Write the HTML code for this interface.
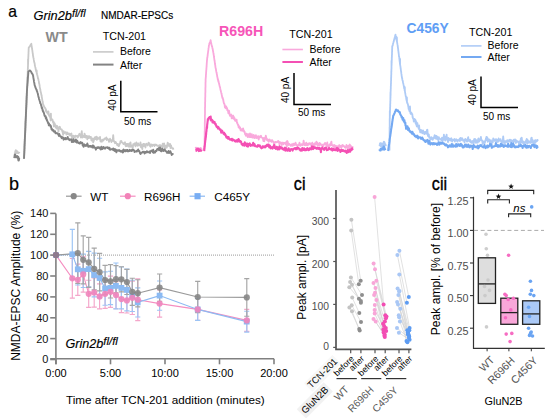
<!DOCTYPE html>
<html><head><meta charset="utf-8"><style>
html,body{margin:0;padding:0;background:#fff;width:550px;height:418px;overflow:hidden}
svg{display:block}
text{font-family:"Liberation Sans",sans-serif}
</style></head><body>
<svg width="550" height="418" viewBox="0 0 550 418">
<rect width="550" height="418" fill="#fff"/>
<text transform="translate(8.3 16.9) scale(0.9 1)" font-size="17.4" stroke="#000" stroke-width="0.25" font-family="Liberation Sans, sans-serif">a</text>
<text x="33.5" y="20" font-size="12.8" font-style="italic" stroke="#000" stroke-width="0.15" font-family="Liberation Sans, sans-serif">Grin2b<tspan font-size="10.8" dy="-3.3">fl/fl</tspan></text>
<text x="101" y="19.2" font-size="10" stroke="#000" stroke-width="0.15" font-family="Liberation Sans, sans-serif">NMDAR-EPSCs</text>
<text x="45.5" y="41.6" font-size="14.2" font-weight="bold" fill="#8a8a8a" font-family="Liberation Sans, sans-serif">WT</text>
<text x="102.7" y="40" font-size="10.7" font-family="Liberation Sans, sans-serif">TCN-201</text><line x1="93" y1="51.9" x2="113.5" y2="51.9" stroke="#c9c9c9" stroke-width="1.6"/><text x="120" y="55.4" font-size="10.5" font-family="Liberation Sans, sans-serif">Before</text><line x1="93" y1="64.6" x2="113.5" y2="64.6" stroke="#838383" stroke-width="2"/><text x="120" y="68.6" font-size="10.5" font-family="Liberation Sans, sans-serif">After</text>
<path d="M120.8 80.8 L120.8 111.8 L157.5 111.8" fill="none" stroke="#000" stroke-width="1.5"/><text transform="translate(116.3 97.6) rotate(-90)" font-size="10" text-anchor="middle" font-family="Liberation Sans, sans-serif">40 pA</text><text x="124" y="125" font-size="10" font-family="Liberation Sans, sans-serif">50 ms</text>
<path d="M14.5 152.1 L15.0 152.6 L15.4 152.2 L15.9 150.6 L16.3 152.7 L16.8 152.4 L17.2 151.6 L17.7 152.8 L18.1 152.8 L18.6 152.9 L19.0 152.9 L19.5 153.4" fill="none" stroke="#c9c9c9" stroke-width="2.4" stroke-linejoin="round"/>
<path d="M24.0 158.9 L24.0 158.3 L24.0 157.9 L24.1 156.9 L24.1 157.6 L24.1 157.1 L24.1 156.2 L24.1 156.0 L24.2 155.4 L24.2 154.6 L24.2 154.6 L24.2 153.7 L24.2 153.1 L24.3 152.7 L24.3 152.6 L24.3 152.1 L24.3 152.0 L24.3 151.3 L24.4 151.0 L24.4 150.4 L24.4 150.4 L24.4 149.7 L24.4 149.1 L24.5 148.7 L24.5 147.9 L24.5 147.9 L24.5 147.9 L24.5 146.7 L24.5 146.1 L24.6 143.0 L24.6 145.8 L24.6 145.1 L24.6 144.8 L24.6 144.2 L24.7 143.4 L24.7 143.1 L24.7 142.5 L24.7 142.3 L24.7 141.2 L24.8 141.1 L24.8 140.8 L24.8 140.7 L24.8 139.7 L24.8 139.1 L24.9 138.7 L24.9 138.8 L24.9 137.9 L24.9 137.9 L24.9 136.7 L25.0 137.0 L25.0 136.7 L25.0 135.8 L25.0 135.6 L25.0 135.5 L25.1 134.8 L25.1 134.7 L25.1 134.6 L25.1 133.5 L25.1 132.9 L25.2 132.4 L25.2 132.3 L25.2 131.5 L25.2 131.0 L25.2 130.6 L25.3 130.4 L25.3 129.5 L25.3 129.0 L25.3 128.2 L25.3 128.6 L25.4 127.9 L25.4 127.7 L25.4 127.0 L25.4 126.3 L25.4 126.1 L25.5 121.1 L25.5 125.1 L25.5 124.7 L25.5 125.0 L25.5 124.0 L25.5 123.5 L25.6 122.9 L25.6 122.2 L25.6 122.2 L25.6 121.5 L25.6 120.9 L25.7 120.8 L25.7 120.2 L25.7 119.8 L25.7 119.6 L25.7 118.6 L25.8 118.7 L25.8 117.6 L25.8 117.3 L25.8 116.5 L25.8 116.5 L25.9 116.0 L25.9 115.4 L25.9 114.9 L25.9 114.4 L25.9 114.0 L26.0 113.3 L26.0 113.0 L26.0 112.8 L26.0 112.5 L26.0 111.9 L26.1 112.1 L26.1 111.2 L26.1 110.6 L26.1 110.8 L26.1 109.6 L26.2 109.7 L26.2 108.8 L26.2 108.6 L26.2 107.5 L26.2 107.7 L26.3 107.0 L26.3 106.4 L26.3 106.7 L26.3 106.0 L26.3 105.4 L26.4 104.7 L26.4 104.5 L26.4 104.0 L26.4 103.8 L26.4 103.3 L26.5 102.5 L26.5 102.1 L26.5 101.6 L26.5 100.9 L26.5 100.6 L26.5 100.3 L26.6 99.9 L26.6 99.7 L26.6 96.3 L26.6 98.8 L26.6 98.2 L26.7 98.5 L26.7 97.5 L26.7 97.2 L26.7 96.3 L26.7 95.8 L26.8 95.6 L26.8 94.9 L26.8 94.5 L26.8 93.6 L26.8 93.8 L26.9 93.0 L26.9 93.1 L26.9 92.2 L26.9 92.2 L26.9 91.2 L27.0 91.2 L27.0 90.2 L27.0 89.9 L27.0 89.5 L27.0 89.0 L27.1 88.6 L27.1 88.3 L27.1 87.8 L27.1 87.3 L27.1 86.6 L27.1 86.2 L27.2 85.9 L27.2 85.0 L27.2 85.3 L27.2 84.5 L27.2 84.1 L27.3 83.9 L27.3 83.5 L27.3 77.3 L27.3 82.1 L27.3 82.0 L27.3 81.6 L27.4 80.7 L27.4 80.7 L27.4 80.1 L27.4 79.1 L27.4 79.0 L27.5 78.2 L27.5 78.4 L27.5 78.1 L27.5 77.1 L27.5 76.8 L27.5 76.7 L27.6 76.3 L27.6 76.4 L27.6 75.7 L27.6 74.9 L27.6 74.7 L27.7 73.5 L27.7 73.5 L27.7 73.0 L27.7 72.2 L27.7 71.6 L27.7 71.4 L27.8 71.4 L27.8 70.5 L27.8 69.8 L27.8 70.1 L27.8 68.7 L27.9 68.9 L27.9 68.2 L27.9 68.0 L27.9 67.1 L27.9 67.0 L28.0 66.3 L28.0 65.5 L28.0 65.0 L28.0 65.0 L28.0 65.1 L28.0 59.3 L28.1 64.2 L28.1 63.6 L28.1 63.5 L28.1 62.9 L28.1 62.5 L28.2 61.7 L28.2 61.7 L28.2 61.3 L28.2 60.1 L28.2 60.5 L28.2 59.6 L28.3 58.6 L28.3 57.9 L28.3 58.2 L28.3 57.6 L28.3 56.9 L28.4 56.1 L28.4 56.5 L28.4 55.6 L28.4 55.0 L28.4 55.4 L28.4 54.7 L28.5 54.0 L28.5 53.2 L28.5 53.0 L28.5 51.8 L28.5 52.2 L28.6 51.6 L28.6 50.8 L28.6 50.3 L28.6 50.4 L28.6 49.8 L28.6 49.5 L28.7 49.1 L28.7 48.0 L28.7 47.7 L29.0 47.1 L29.4 47.0 L29.7 46.8 L30.0 45.9 L30.3 45.7 L30.6 44.7 L31.0 44.4 L31.3 43.8 L31.4 44.3 L31.4 45.4 L31.5 45.6 L31.6 45.6 L31.7 46.1 L31.7 46.8 L31.8 46.9 L31.9 47.6 L31.9 47.7 L32.0 48.5 L32.1 48.9 L32.1 49.4 L32.2 49.6 L32.3 50.0 L32.4 50.8 L32.4 51.2 L32.5 51.6 L32.6 52.1 L32.6 53.0 L32.7 53.3 L32.8 53.5 L32.9 54.2 L32.9 54.4 L33.0 55.7 L33.1 55.9 L33.1 55.9 L33.2 56.8 L33.3 57.3 L33.3 56.8 L33.4 57.7 L33.5 58.0 L33.6 58.1 L33.6 58.6 L33.7 59.1 L33.8 59.9 L33.9 60.4 L34.0 61.4 L34.1 61.2 L34.2 62.1 L34.3 62.3 L34.4 62.8 L34.5 63.0 L34.6 63.2 L34.7 64.0 L34.8 64.7 L34.8 65.5 L34.9 65.6 L35.0 66.0 L35.1 66.0 L35.2 66.9 L35.3 67.3 L35.4 67.4 L35.5 68.0 L35.6 68.2 L35.7 69.4 L35.8 69.6 L35.9 70.2 L36.0 70.8 L36.1 71.2 L36.3 71.4 L36.4 71.7 L36.5 72.1 L36.6 72.4 L36.7 70.5 L36.8 74.1 L37.0 73.5 L37.1 74.4 L37.2 74.8 L37.3 74.9 L37.4 75.7 L37.5 75.9 L37.7 77.0 L37.8 77.1 L37.9 77.8 L38.0 78.5 L38.1 78.6 L38.2 78.5 L38.4 79.3 L38.5 80.2 L38.6 80.5 L38.7 80.9 L38.8 81.1 L38.9 82.0 L39.0 82.8 L39.1 83.0 L39.1 83.8 L39.2 83.7 L39.3 83.9 L39.4 84.2 L39.5 85.4 L39.6 85.5 L39.7 86.4 L39.8 86.8 L39.8 87.5 L39.9 88.1 L40.0 88.1 L40.1 88.6 L40.2 89.4 L40.3 89.2 L40.4 90.3 L40.5 90.7 L40.5 91.1 L40.6 91.3 L40.7 92.0 L40.8 92.0 L40.9 92.7 L41.0 92.9 L41.1 93.4 L41.2 93.7 L41.2 94.2 L41.3 94.8 L41.4 94.6 L41.5 95.6 L41.6 95.4 L41.7 95.8 L41.7 96.8 L41.8 97.3 L41.9 97.9 L42.0 98.0 L42.1 98.8 L42.2 99.4 L42.3 100.2 L42.3 100.3 L42.4 100.9 L42.5 101.0 L42.6 101.6 L42.7 101.9 L42.8 102.5 L42.8 102.6 L42.9 103.0 L43.0 103.8 L43.1 104.6 L43.3 104.7 L43.6 105.2 L43.8 105.6 L44.0 106.5 L44.2 106.9 L44.5 107.7 L44.7 107.8 L44.9 107.5 L45.1 108.0 L45.4 108.4 L45.6 108.7 L45.8 110.6 L46.0 111.0 L46.2 109.9 L46.5 112.2 L46.7 111.7 L46.9 111.4 L47.1 112.8 L47.4 112.7 L47.6 112.7 L47.9 112.5 L48.1 114.1 L48.4 111.5 L48.6 112.8 L48.9 115.1 L49.1 115.7 L49.4 115.3 L49.6 116.6 L49.9 116.9 L50.1 117.0 L50.4 118.3 L50.6 120.5 L50.9 113.6 L51.1 119.4 L51.4 119.7 L51.6 119.1 L51.9 119.8 L52.1 119.3 L52.5 119.7 L52.8 121.7 L53.2 122.8 L53.5 121.6 L53.9 126.6 L54.3 122.8 L54.6 123.7 L55.0 124.5 L55.3 125.0 L55.7 127.4 L56.1 125.6 L56.4 128.7 L56.8 128.6 L57.1 125.9 L57.5 128.7 L58.0 127.0 L58.4 131.8 L58.9 128.0 L59.4 127.6 L59.8 126.7 L60.3 128.5 L60.8 129.3 L61.2 129.4 L61.7 129.3 L62.2 130.9 L62.7 132.4 L63.1 134.8 L63.6 131.1 L64.1 133.4 L64.5 132.6 L65.0 132.5 L65.5 132.1 L65.9 132.3 L66.4 134.5 L66.8 132.9 L67.3 132.5 L67.7 134.1 L68.2 133.7 L68.6 133.5 L69.1 134.6 L69.5 133.6 L70.0 135.5 L70.5 135.3 L70.9 134.1 L71.4 133.4 L71.8 137.1 L72.3 135.8 L72.7 139.4 L73.2 135.7 L73.6 137.5 L74.1 136.1 L74.5 136.1 L75.0 137.3 L75.5 135.6 L75.9 136.4 L76.4 136.2 L76.8 135.9 L77.3 136.1 L77.7 137.5 L78.2 136.8 L78.6 135.2 L79.1 134.5 L79.5 133.7 L80.0 135.1 L80.5 136.1 L80.9 137.5 L81.4 133.6 L81.8 131.2 L82.3 137.6 L82.7 136.0 L83.2 135.9 L83.6 136.7 L84.1 137.1 L84.5 133.6 L85.0 135.1 L85.5 137.5 L85.9 137.2 L86.4 136.1 L86.8 135.9 L87.3 139.3 L87.7 136.3 L88.2 137.8 L88.6 138.0 L89.1 136.0 L89.5 137.9 L90.0 137.2 L90.5 136.8 L90.9 136.9 L91.4 140.5 L91.8 138.7 L92.3 139.1 L92.7 138.5 L93.2 142.3 L93.6 141.2 L94.1 139.5 L94.5 138.0 L95.0 137.1 L95.5 139.1 L95.9 139.2 L96.4 136.7 L96.8 139.8 L97.3 139.5 L97.7 137.5 L98.2 138.3 L98.6 138.2 L99.1 138.9 L99.5 138.8 L100.0 136.9 L100.5 141.5 L100.9 140.1 L101.4 141.2 L101.8 141.7 L102.3 139.6 L102.7 140.4 L103.2 140.6 L103.6 140.1 L104.1 139.2 L104.5 138.5 L105.0 138.9 L105.5 138.3 L105.9 139.0 L106.4 137.3 L106.8 140.0 L107.3 138.8 L107.7 138.9 L108.2 139.8 L108.6 140.0 L109.1 141.9 L109.5 140.2 L110.0 138.7 L110.5 140.3 L110.9 139.9 L111.4 142.1 L111.8 140.4 L112.3 140.4 L112.7 140.8 L113.2 135.1 L113.6 139.7 L114.1 141.4 L114.5 141.9 L115.0 143.2 L115.5 141.9 L115.9 142.2 L116.4 143.5 L116.8 143.6 L117.3 145.1 L117.7 144.0 L118.2 144.7 L118.6 146.2 L119.1 145.8 L119.5 143.6 L120.0 143.7 L120.5 141.1 L120.9 142.3 L121.4 141.0 L121.8 142.2 L122.3 142.5 L122.7 142.7 L123.2 143.6 L123.6 144.1 L124.1 143.9 L124.5 143.1 L125.0 142.3 L125.5 145.5 L125.9 146.2 L126.4 144.0 L126.8 146.1 L127.3 144.1 L127.7 143.9 L128.2 144.7 L128.6 146.7 L129.1 143.6 L129.5 143.6 L130.0 146.9 L130.5 142.3 L130.9 146.0 L131.4 146.6 L131.8 145.7 L132.3 146.3 L132.7 149.1 L133.2 144.1 L133.6 144.5 L134.1 144.7 L134.5 143.4 L135.0 143.3 L135.5 146.3 L135.9 144.9 L136.4 142.4 L136.8 143.9 L137.3 145.5 L137.7 145.8 L138.2 143.5 L138.6 145.3 L139.1 145.4 L139.5 145.0 L140.0 145.4 L140.5 142.4 L140.9 147.3 L141.4 144.7 L141.8 146.8 L142.3 149.1 L142.7 146.0 L143.2 143.9 L143.6 146.2 L144.1 144.0 L144.5 144.2 L145.0 144.3 L145.5 147.5 L145.9 144.5 L146.4 143.7 L146.8 144.5 L147.3 144.6 L147.7 145.5 L148.2 144.0 L148.6 142.6 L149.1 144.6 L149.5 143.4 L150.0 146.1 L150.5 146.7 L150.9 144.9 L151.4 144.4 L151.8 145.3 L152.3 146.0 L152.7 144.9 L153.2 144.7 L153.6 144.8 L154.1 145.4 L154.5 146.1 L155.0 144.4 L155.5 145.0 L155.9 145.0 L156.4 144.7 L156.8 145.5 L157.3 145.8 L157.7 145.9 L158.2 145.5 L158.6 145.6 L159.1 149.2 L159.5 147.7 L160.0 145.0 L160.5 145.6 L160.9 148.8 L161.4 148.1 L161.8 145.4 L162.3 147.2 L162.7 143.7 L163.2 146.0 L163.6 146.7 L164.1 143.4 L164.5 145.7 L165.0 148.0 L165.5 148.2 L165.9 145.7 L166.4 146.1 L166.8 147.7 L167.3 144.9 L167.7 142.6 L168.2 144.2 L168.6 143.9 L169.1 146.2 L169.5 145.4 L170.0 143.9 L170.5 148.1 L171.0 145.3 L171.5 147.5 L172.0 147.9 L172.5 148.6 L173.0 148.2 L173.5 149.6" fill="none" stroke="#c9c9c9" stroke-width="1.8" stroke-linejoin="round"/>
<path d="M14.5 158.1 L15.0 154.8 L15.4 157.0 L15.9 156.5 L16.3 156.6 L16.8 157.0 L17.2 156.2 L17.7 157.7 L18.1 157.1 L18.6 160.3 L19.0 157.9 L19.5 157.5" fill="none" stroke="#838383" stroke-width="2.4" stroke-linejoin="round"/>
<path d="M24.0 158.8 L24.0 158.4 L24.0 158.2 L24.1 157.6 L24.1 156.8 L24.1 156.6 L24.1 156.2 L24.1 155.9 L24.2 155.2 L24.2 155.1 L24.2 154.7 L24.2 154.5 L24.2 153.9 L24.3 153.3 L24.3 152.6 L24.3 152.6 L24.3 151.5 L24.3 151.5 L24.4 150.8 L24.4 150.3 L24.4 149.9 L24.4 149.4 L24.4 149.1 L24.5 148.5 L24.5 148.4 L24.5 147.3 L24.5 147.2 L24.5 146.6 L24.5 146.4 L24.6 145.6 L24.6 145.4 L24.6 145.1 L24.6 144.5 L24.6 144.3 L24.7 143.8 L24.7 143.5 L24.7 143.0 L24.7 142.2 L24.7 141.7 L24.8 141.3 L24.8 141.0 L24.8 140.5 L24.8 139.9 L24.8 139.4 L24.9 139.0 L24.9 138.5 L24.9 138.2 L24.9 137.7 L24.9 137.6 L25.0 136.7 L25.0 136.3 L25.0 135.9 L25.0 135.3 L25.0 134.9 L25.1 134.5 L25.1 134.1 L25.1 133.4 L25.1 133.4 L25.1 132.8 L25.2 132.4 L25.2 132.0 L25.2 131.5 L25.2 131.2 L25.2 130.7 L25.3 130.2 L25.3 129.8 L25.3 129.1 L25.3 129.0 L25.3 128.4 L25.4 127.8 L25.4 127.8 L25.4 127.0 L25.4 126.4 L25.4 126.5 L25.5 125.7 L25.5 125.4 L25.5 124.6 L25.5 124.2 L25.5 123.5 L25.5 123.0 L25.6 122.6 L25.6 122.3 L25.6 122.0 L25.6 121.8 L25.6 120.8 L25.7 120.7 L25.7 120.0 L25.7 119.6 L25.7 119.0 L25.7 118.6 L25.8 118.4 L25.8 117.9 L25.8 117.6 L25.8 117.1 L25.8 117.0 L25.9 116.3 L25.9 115.8 L25.9 115.4 L25.9 114.9 L25.9 114.4 L26.0 113.9 L26.0 113.5 L26.0 113.2 L26.0 112.7 L26.0 112.2 L26.1 111.8 L26.1 111.1 L26.1 110.8 L26.1 109.9 L26.1 109.9 L26.2 109.2 L26.2 108.8 L26.2 108.4 L26.2 107.9 L26.2 107.5 L26.3 107.4 L26.3 106.8 L26.3 106.3 L26.3 106.1 L26.3 105.2 L26.4 105.3 L26.4 104.5 L26.4 104.1 L26.4 103.9 L26.4 103.4 L26.5 102.6 L26.5 102.3 L26.5 102.0 L26.5 101.5 L26.5 100.7 L26.5 100.3 L26.6 100.0 L26.6 99.4 L26.6 99.0 L26.6 98.5 L26.6 97.9 L26.7 97.5 L26.7 96.8 L26.7 96.8 L26.7 96.5 L26.7 95.8 L26.8 95.7 L26.8 95.2 L26.8 94.6 L26.8 94.0 L26.8 93.6 L26.9 93.0 L26.9 92.6 L26.9 92.2 L26.9 91.8 L26.9 91.4 L27.0 90.8 L27.0 90.6 L27.0 89.9 L27.0 89.6 L27.1 89.2 L27.1 88.6 L27.1 88.0 L27.2 87.6 L27.2 87.0 L27.2 86.6 L27.3 86.2 L27.3 85.9 L27.4 85.3 L27.4 85.3 L27.4 84.6 L27.5 83.6 L27.5 83.5 L27.5 83.3 L27.6 82.7 L27.6 82.2 L27.6 81.7 L27.7 81.5 L27.7 81.0 L27.7 80.5 L27.8 80.0 L27.8 79.6 L27.8 79.0 L27.9 78.3 L27.9 78.2 L27.9 77.6 L28.0 77.2 L28.0 76.9 L28.0 76.3 L28.1 75.5 L28.1 75.6 L28.2 75.1 L28.2 74.6 L28.2 74.0 L28.3 73.6 L28.3 73.0 L28.3 72.9 L28.4 72.3 L28.4 71.7 L29.0 71.1 L29.5 70.7 L30.1 70.4 L30.4 70.9 L30.6 71.2 L30.9 71.5 L31.2 71.9 L31.4 72.5 L31.7 73.2 L31.9 73.1 L32.2 74.0 L32.5 74.0 L32.7 74.7 L33.0 75.4 L33.1 75.6 L33.2 76.0 L33.2 76.7 L33.3 77.2 L33.4 77.5 L33.5 78.2 L33.5 78.3 L33.6 79.2 L33.7 79.4 L33.8 79.9 L33.9 80.4 L33.9 80.8 L34.0 81.5 L34.1 82.0 L34.2 82.3 L34.2 82.7 L34.3 83.0 L34.4 83.4 L34.5 84.0 L34.5 84.4 L34.6 84.9 L34.7 85.4 L34.9 85.9 L35.1 86.1 L35.3 86.7 L35.4 87.5 L35.6 87.9 L35.8 88.2 L36.0 88.9 L36.2 89.0 L36.4 89.5 L36.6 89.7 L36.7 90.6 L36.9 90.9 L37.1 91.5 L37.3 91.9 L37.4 92.2 L37.5 92.7 L37.7 93.3 L37.8 93.6 L37.9 94.0 L38.0 94.6 L38.1 95.2 L38.3 95.8 L38.4 96.6 L38.5 96.6 L38.6 97.3 L38.8 97.6 L38.9 98.2 L39.0 98.6 L39.1 99.3 L39.2 99.4 L39.4 99.7 L39.5 100.4 L39.6 100.9 L39.8 101.1 L39.9 101.7 L40.1 102.0 L40.2 103.2 L40.4 103.1 L40.5 103.7 L40.7 103.5 L40.8 104.0 L41.0 104.7 L41.1 105.2 L41.3 106.1 L41.4 106.0 L41.6 107.0 L41.7 107.8 L41.9 107.3 L42.0 108.5 L42.2 108.1 L42.3 109.1 L42.5 109.4 L42.6 110.4 L42.8 110.0 L42.9 110.9 L43.1 111.7 L43.3 111.3 L43.5 112.2 L43.7 112.4 L43.9 113.0 L44.1 113.9 L44.3 114.4 L44.5 115.6 L44.7 115.7 L44.9 116.2 L45.1 116.0 L45.3 116.4 L45.4 117.0 L45.6 116.1 L45.8 118.5 L46.0 117.5 L46.2 117.5 L46.4 118.3 L46.6 119.5 L46.8 120.1 L47.0 119.8 L47.2 121.0 L47.4 121.2 L47.6 121.3 L47.9 122.7 L48.2 123.5 L48.5 122.9 L48.8 125.4 L49.1 123.7 L49.4 125.2 L49.7 124.5 L50.0 125.0 L50.3 125.1 L50.6 126.8 L50.9 125.9 L51.2 127.4 L51.5 129.4 L51.8 128.6 L52.1 129.4 L52.4 130.4 L52.7 129.8 L53.0 130.7 L53.5 130.2 L54.0 131.8 L54.5 131.6 L55.0 131.2 L55.5 133.3 L55.9 132.9 L56.4 133.3 L56.9 133.0 L57.4 133.4 L57.9 133.9 L58.4 134.6 L58.9 135.9 L59.3 134.0 L59.8 135.3 L60.3 136.5 L60.8 136.3 L61.2 136.9 L61.7 138.2 L62.2 137.1 L62.6 137.8 L63.1 137.6 L63.6 139.7 L64.1 139.2 L64.5 138.2 L65.0 138.9 L65.5 137.9 L65.9 139.4 L66.4 138.9 L66.8 138.2 L67.3 138.4 L67.7 136.9 L68.2 139.3 L68.6 138.9 L69.1 139.1 L69.5 140.2 L70.0 139.4 L70.5 139.4 L70.9 139.6 L71.4 139.3 L71.8 142.1 L72.3 140.7 L72.7 141.0 L73.2 141.9 L73.6 139.1 L74.1 141.5 L74.5 141.3 L75.0 140.9 L75.5 141.8 L75.9 139.5 L76.4 141.3 L76.8 142.6 L77.3 140.7 L77.7 142.0 L78.2 142.9 L78.6 143.0 L79.1 142.8 L79.5 143.6 L80.0 143.3 L80.5 142.1 L80.9 143.2 L81.4 142.7 L81.8 142.5 L82.3 142.8 L82.7 145.6 L83.2 144.6 L83.6 146.8 L84.1 144.3 L84.5 145.2 L85.0 145.7 L85.5 145.0 L85.9 146.0 L86.4 145.7 L86.8 144.8 L87.3 143.5 L87.7 144.5 L88.2 146.8 L88.6 146.7 L89.1 146.7 L89.5 146.0 L90.0 146.1 L90.5 145.9 L90.9 146.8 L91.4 146.2 L91.8 146.3 L92.3 147.5 L92.7 145.5 L93.2 147.2 L93.6 145.7 L94.1 147.7 L94.5 147.1 L95.0 147.6 L95.5 148.4 L95.9 149.7 L96.4 148.3 L96.8 147.8 L97.3 147.2 L97.7 148.1 L98.2 147.2 L98.6 147.2 L99.1 147.7 L99.5 148.4 L100.0 147.6 L100.5 148.7 L100.9 149.5 L101.4 146.7 L101.8 148.6 L102.3 149.1 L102.7 147.5 L103.2 148.2 L103.6 146.9 L104.1 148.3 L104.5 148.0 L105.0 148.7 L105.5 148.0 L105.9 147.4 L106.4 147.5 L106.8 147.4 L107.3 147.3 L107.7 148.1 L108.2 147.4 L108.6 148.3 L109.1 149.0 L109.5 147.7 L110.0 149.8 L110.5 149.6 L110.9 149.3 L111.4 149.1 L111.8 149.1 L112.3 149.2 L112.7 149.8 L113.2 148.4 L113.6 150.4 L114.1 149.0 L114.5 150.4 L115.0 151.1 L115.5 149.3 L115.9 151.2 L116.4 152.3 L116.8 150.1 L117.3 150.8 L117.7 150.2 L118.2 150.4 L118.6 150.7 L119.1 150.1 L119.5 151.0 L120.0 151.3 L120.5 150.7 L120.9 151.7 L121.4 151.6 L121.8 151.2 L122.3 150.6 L122.7 152.6 L123.2 152.1 L123.6 149.5 L124.1 150.1 L124.5 150.4 L125.0 151.3 L125.5 151.4 L125.9 150.0 L126.4 150.5 L126.8 150.9 L127.3 149.9 L127.7 151.4 L128.2 150.9 L128.6 151.2 L129.1 151.1 L129.5 149.8 L130.0 150.2 L130.5 150.8 L130.9 150.4 L131.4 150.1 L131.8 151.1 L132.3 150.1 L132.7 149.7 L133.2 150.0 L133.6 150.0 L134.1 150.5 L134.5 152.0 L135.0 151.4 L135.5 151.5 L135.9 151.5 L136.4 151.0 L136.8 151.6 L137.3 150.5 L137.7 150.4 L138.2 149.4 L138.6 151.0 L139.1 150.8 L139.5 151.4 L140.0 153.3 L140.5 154.1 L140.9 153.2 L141.4 152.7 L141.8 152.9 L142.3 152.4 L142.7 151.8 L143.2 152.1 L143.6 151.8 L144.1 151.8 L144.5 153.5 L145.0 152.1 L145.5 152.0 L145.9 152.7 L146.4 152.0 L146.8 151.3 L147.3 151.4 L147.7 152.3 L148.2 152.4 L148.6 152.3 L149.1 151.9 L149.5 151.4 L150.0 153.0 L150.5 151.1 L150.9 151.3 L151.4 150.5 L151.8 150.9 L152.3 151.3 L152.7 152.2 L153.2 149.6 L153.6 152.9 L154.1 151.6 L154.5 152.3 L155.0 152.6 L155.5 151.0 L155.9 151.3 L156.4 151.1 L156.8 149.9 L157.3 148.9 L157.7 149.5 L158.2 149.6 L158.6 148.2 L159.1 150.3 L159.5 149.2 L160.0 147.5 L160.5 149.3 L160.9 151.1 L161.4 151.3 L161.9 150.3 L162.4 148.6 L162.8 149.8 L163.3 151.0 L163.8 150.2 L164.2 149.8 L164.7 149.3 L165.2 150.9 L165.6 150.7 L166.1 151.6 L166.6 151.7 L167.1 152.9 L167.5 152.3 L168.0 152.5 L168.5 151.0 L168.9 153.0 L169.4 152.9 L169.8 152.6 L170.3 151.2 L170.8 152.3 L171.2 153.3 L171.7 155.0 L172.1 153.9 L172.6 154.1 L173.0 154.2 L173.5 154.5" fill="none" stroke="#838383" stroke-width="1.9" stroke-linejoin="round"/>
<text x="219" y="36" font-size="14.2" font-weight="bold" fill="#f655b8" font-family="Liberation Sans, sans-serif">R696H</text>
<text x="289.3" y="37.6" font-size="10.7" font-family="Liberation Sans, sans-serif">TCN-201</text><line x1="282.4" y1="49.5" x2="302.9" y2="49.5" stroke="#f9a9dc" stroke-width="1.6"/><text x="309.6" y="53" font-size="10.5" font-family="Liberation Sans, sans-serif">Before</text><line x1="282.4" y1="62" x2="302.9" y2="62" stroke="#f450b4" stroke-width="2"/><text x="309.6" y="66" font-size="10.5" font-family="Liberation Sans, sans-serif">After</text>
<path d="M294 73 L294 104.4 L331 104.4" fill="none" stroke="#000" stroke-width="1.5"/><text transform="translate(289.3 90) rotate(-90)" font-size="10" text-anchor="middle" font-family="Liberation Sans, sans-serif">40 pA</text><text x="298" y="116.4" font-size="10" font-family="Liberation Sans, sans-serif">50 ms</text>
<path d="M195.5 148.4 L196.0 147.9 L196.4 148.6 L196.9 149.0 L197.3 149.6 L197.8 149.1 L198.3 148.5 L198.7 148.6 L199.2 150.1 L199.7 150.5 L200.1 149.6 L200.6 148.3 L201.0 148.6 L201.5 150.6" fill="none" stroke="#f9a9dc" stroke-width="2.4" stroke-linejoin="round"/>
<path d="M204.5 151.2 L204.5 150.9 L204.5 149.4 L204.5 149.6 L204.5 149.5 L204.5 149.1 L204.5 148.5 L204.5 148.2 L204.5 147.5 L204.5 147.0 L204.6 146.5 L204.6 145.7 L204.6 145.4 L204.6 145.2 L204.6 144.7 L204.6 144.7 L204.6 144.3 L204.6 143.9 L204.6 143.0 L204.6 142.9 L204.6 141.8 L204.6 141.4 L204.6 141.0 L204.6 140.6 L204.6 139.7 L204.6 139.2 L204.6 139.4 L204.6 138.6 L204.7 138.7 L204.7 138.1 L204.7 137.6 L204.7 137.2 L204.7 136.9 L204.7 136.0 L204.7 135.9 L204.7 135.1 L204.7 134.7 L204.7 134.1 L204.7 133.9 L204.7 133.4 L204.7 132.7 L204.7 133.0 L204.7 131.9 L204.7 131.7 L204.7 131.3 L204.7 131.2 L204.8 130.3 L204.8 130.1 L204.8 129.6 L204.8 128.7 L204.8 128.8 L204.8 128.3 L204.8 127.5 L204.8 127.1 L204.8 126.2 L204.8 125.8 L204.8 125.6 L204.8 125.4 L204.8 124.7 L204.8 124.5 L204.8 124.2 L204.8 123.5 L204.8 123.1 L204.8 122.9 L204.9 121.6 L204.9 121.7 L204.9 120.6 L204.9 120.8 L204.9 120.3 L204.9 119.7 L204.9 119.2 L204.9 119.1 L204.9 118.6 L204.9 118.2 L204.9 117.5 L204.9 117.5 L204.9 116.7 L204.9 116.5 L204.9 116.0 L204.9 116.0 L204.9 115.1 L204.9 114.8 L205.0 114.8 L205.0 113.8 L205.0 113.2 L205.0 113.1 L205.0 112.4 L205.0 112.1 L205.0 111.3 L205.0 111.1 L205.0 110.9 L205.0 110.4 L205.0 109.4 L205.0 109.5 L205.0 108.4 L205.0 107.7 L205.0 107.4 L205.1 107.1 L205.1 106.6 L205.1 106.4 L205.1 106.0 L205.1 105.5 L205.1 104.9 L205.1 104.9 L205.1 103.6 L205.1 103.3 L205.1 103.1 L205.1 102.4 L205.2 101.7 L205.2 101.8 L205.2 101.2 L205.2 100.3 L205.2 100.5 L205.2 100.2 L205.2 99.7 L205.2 98.9 L205.2 98.6 L205.2 97.9 L205.2 97.7 L205.3 97.1 L205.3 97.0 L205.3 96.5 L205.3 96.3 L205.3 95.7 L205.3 95.3 L205.3 94.3 L205.3 93.9 L205.3 93.8 L205.3 93.0 L205.3 92.9 L205.4 92.5 L205.4 92.1 L205.4 91.7 L205.4 91.1 L205.4 90.7 L205.4 89.8 L205.4 89.8 L205.4 89.0 L205.4 88.8 L205.4 88.2 L205.4 87.9 L205.5 87.1 L205.5 86.7 L205.5 86.3 L205.5 85.6 L205.5 85.1 L205.5 84.7 L205.5 84.2 L205.5 83.6 L205.5 84.0 L205.5 82.6 L205.5 82.2 L205.6 82.3 L205.6 81.2 L205.6 81.1 L205.6 80.7 L205.6 80.0 L205.6 79.3 L205.6 78.9 L205.7 79.0 L205.7 78.6 L205.7 77.7 L205.8 77.8 L205.8 77.3 L205.8 77.2 L205.9 76.5 L205.9 75.8 L205.9 75.4 L205.9 75.0 L206.0 74.9 L206.0 74.8 L206.0 73.8 L206.1 73.1 L206.1 72.7 L206.1 72.1 L206.2 71.9 L206.2 71.4 L206.2 70.8 L206.3 70.1 L206.3 69.9 L206.3 69.8 L206.4 69.2 L206.4 69.0 L206.4 68.4 L206.5 67.7 L206.5 67.8 L206.5 66.7 L206.6 66.7 L206.6 66.4 L206.6 65.4 L206.7 65.0 L206.7 64.8 L206.7 64.4 L206.7 63.7 L206.8 63.2 L206.8 63.1 L206.8 62.7 L206.9 61.8 L206.9 61.6 L206.9 61.2 L207.0 60.3 L207.0 60.2 L207.1 59.5 L207.1 59.4 L207.2 58.4 L207.2 58.0 L207.3 57.4 L207.4 57.6 L207.4 57.1 L207.5 56.7 L207.5 56.2 L207.6 55.6 L207.7 55.3 L207.7 54.2 L207.8 54.3 L207.8 53.7 L207.9 53.3 L208.0 52.5 L208.0 52.6 L208.1 51.9 L208.2 51.1 L208.2 51.2 L208.3 50.6 L208.3 49.8 L208.4 49.5 L208.5 49.0 L208.5 48.1 L208.6 47.9 L208.6 47.9 L208.7 47.5 L208.8 47.0 L208.8 46.3 L208.9 45.9 L208.9 45.5 L209.0 45.1 L209.2 44.2 L209.3 43.6 L209.5 43.7 L209.6 43.1 L209.8 42.5 L210.0 42.0 L210.1 41.7 L210.3 41.7 L210.4 41.1 L210.6 40.2 L210.7 40.4 L210.8 41.5 L210.9 42.0 L211.0 42.4 L211.1 42.9 L211.2 42.9 L211.3 43.5 L211.4 44.4 L211.5 44.7 L211.6 45.3 L211.7 45.3 L211.8 45.7 L211.9 46.3 L212.1 46.4 L212.2 46.8 L212.3 47.4 L212.4 47.8 L212.5 48.6 L212.6 49.0 L212.7 48.8 L212.8 49.6 L212.9 50.2 L213.0 51.1 L213.1 51.1 L213.2 52.0 L213.3 52.5 L213.4 52.9 L213.4 52.9 L213.5 53.5 L213.6 53.7 L213.6 54.5 L213.7 55.2 L213.8 55.1 L213.8 55.7 L213.9 56.3 L214.0 56.6 L214.0 57.6 L214.1 57.6 L214.2 58.1 L214.2 58.2 L214.3 59.5 L214.4 59.5 L214.4 60.1 L214.5 60.4 L214.6 60.3 L214.6 60.9 L214.7 61.6 L214.8 62.3 L214.8 62.6 L214.9 63.3 L215.0 63.7 L215.0 64.1 L215.1 64.8 L215.2 64.9 L215.2 64.9 L215.3 65.7 L215.4 66.8 L215.4 66.5 L215.5 67.6 L215.6 68.1 L215.7 68.1 L215.8 68.8 L215.9 68.9 L216.0 69.9 L216.0 70.1 L216.1 70.4 L216.2 71.1 L216.3 71.7 L216.4 72.0 L216.5 72.6 L216.6 72.9 L216.7 73.3 L216.8 74.1 L216.9 74.9 L217.0 74.8 L217.1 75.2 L217.1 75.6 L217.2 76.5 L217.3 76.7 L217.4 77.3 L217.5 77.5 L217.6 78.3 L217.7 78.7 L217.8 79.6 L218.0 79.7 L218.1 79.7 L218.2 80.8 L218.3 81.3 L218.4 81.6 L218.5 81.0 L218.7 82.2 L218.8 82.8 L218.9 83.1 L219.0 83.3 L219.1 83.5 L219.2 84.3 L219.4 84.8 L219.5 85.6 L219.6 86.1 L219.7 86.3 L219.8 87.1 L220.0 87.0 L220.1 87.5 L220.2 88.1 L220.3 88.7 L220.4 89.1 L220.5 90.2 L220.7 90.4 L220.8 90.6 L220.9 91.6 L221.0 91.8 L221.1 92.3 L221.2 92.3 L221.4 93.7 L221.5 94.0 L221.6 93.6 L221.7 95.0 L221.8 95.4 L221.9 95.4 L222.0 96.3 L222.2 97.4 L222.3 97.0 L222.4 97.7 L222.5 98.2 L222.6 97.7 L222.7 97.8 L222.8 98.1 L223.0 99.0 L223.1 99.9 L223.2 99.4 L223.3 99.9 L223.4 101.1 L223.5 101.2 L223.6 102.2 L223.8 102.7 L223.9 103.2 L224.0 103.3 L224.1 103.8 L224.3 103.7 L224.6 104.3 L224.8 106.6 L225.0 107.6 L225.2 106.9 L225.5 106.0 L225.7 107.3 L225.9 108.3 L226.2 106.4 L226.4 107.3 L226.6 108.2 L226.8 107.9 L227.1 108.2 L227.3 110.3 L227.7 109.9 L228.0 110.8 L228.4 113.4 L228.8 111.5 L229.1 110.8 L229.5 113.9 L229.9 115.8 L230.2 115.0 L230.6 115.9 L231.0 114.4 L231.3 115.3 L231.7 118.4 L232.1 118.3 L232.4 118.0 L232.8 116.4 L233.1 115.5 L233.4 116.2 L233.7 116.6 L234.1 119.3 L234.4 118.0 L234.7 118.3 L235.0 120.5 L235.3 120.9 L235.6 120.5 L235.9 120.8 L236.3 121.2 L236.6 119.6 L236.9 122.9 L237.2 122.6 L237.6 124.0 L237.9 125.0 L238.3 124.8 L238.6 127.5 L239.0 126.1 L239.3 127.2 L239.7 128.3 L240.1 127.4 L240.4 129.9 L240.8 130.4 L241.1 130.7 L241.5 129.1 L241.9 129.1 L242.3 129.3 L242.7 130.8 L243.1 128.5 L243.5 130.1 L243.9 130.4 L244.3 132.0 L244.7 131.8 L245.1 134.4 L245.5 134.7 L245.9 135.8 L246.4 133.6 L246.8 133.6 L247.3 134.5 L247.7 137.2 L248.2 136.9 L248.6 134.2 L249.1 135.5 L249.6 137.1 L250.0 133.5 L250.5 134.8 L250.9 137.2 L251.4 136.4 L251.8 134.2 L252.3 137.6 L252.7 137.7 L253.2 137.6 L253.7 134.9 L254.1 135.7 L254.6 138.1 L255.0 137.1 L255.5 137.1 L255.9 135.1 L256.4 138.0 L256.9 136.3 L257.3 137.9 L257.8 137.4 L258.2 136.2 L258.7 139.5 L259.1 136.7 L259.6 136.5 L260.0 137.5 L260.5 136.1 L261.0 135.7 L261.5 137.5 L261.9 137.7 L262.4 137.8 L262.9 138.6 L263.4 141.1 L263.9 138.0 L264.3 141.4 L264.8 138.9 L265.3 138.5 L265.8 135.7 L266.3 137.8 L266.7 139.9 L267.2 140.3 L267.7 139.3 L268.2 141.0 L268.7 141.7 L269.1 140.4 L269.6 139.5 L270.1 140.2 L270.6 141.2 L271.1 141.4 L271.6 141.9 L272.1 140.0 L272.5 141.3 L273.0 141.1 L273.5 142.2 L274.0 143.7 L274.4 143.9 L274.9 142.4 L275.3 141.9 L275.8 142.0 L276.2 142.0 L276.7 142.4 L277.2 142.2 L277.6 141.8 L278.1 140.9 L278.5 141.3 L279.0 142.0 L279.5 144.6 L279.9 142.1 L280.4 142.4 L280.8 142.7 L281.3 142.7 L281.8 145.0 L282.2 142.7 L282.7 142.8 L283.1 142.7 L283.6 144.3 L284.0 142.8 L284.5 143.1 L285.0 142.9 L285.4 142.7 L285.9 144.4 L286.3 141.8 L286.8 146.8 L287.2 140.9 L287.7 141.7 L288.2 144.3 L288.6 145.0 L289.1 143.9 L289.5 144.4 L290.0 145.0 L290.5 144.7 L290.9 145.9 L291.4 145.1 L291.8 144.3 L292.3 144.5 L292.7 145.8 L293.2 143.6 L293.6 143.9 L294.1 145.1 L294.5 144.0 L295.0 144.8 L295.5 142.6 L295.9 143.9 L296.4 145.1 L296.8 145.0 L297.3 145.3 L297.7 146.1 L298.2 144.8 L298.6 144.4 L299.1 145.2 L299.5 142.7 L300.0 144.7 L300.5 145.8 L300.9 144.6 L301.4 144.7 L301.8 144.1 L302.3 145.2 L302.7 144.6 L303.2 144.6 L303.6 140.6 L304.1 143.7 L304.5 145.2 L305.0 144.5 L305.5 143.5 L305.9 145.4 L306.4 142.7 L306.8 143.8 L307.3 145.3 L307.7 143.9 L308.2 144.7 L308.6 144.9 L309.1 143.1 L309.5 144.0 L310.0 143.5 L310.5 143.4 L310.9 144.9 L311.4 144.2 L311.8 143.6 L312.3 142.6 L312.7 144.3 L313.2 146.7 L313.6 144.1 L314.1 145.8 L314.5 144.9 L315.0 143.2 L315.5 143.0 L315.9 144.5 L316.4 141.7 L316.8 144.6 L317.3 142.7 L317.7 145.3 L318.2 143.9 L318.6 143.9 L319.1 145.3 L319.5 142.8 L320.0 144.0 L320.5 143.6 L320.9 144.9 L321.4 145.3 L321.8 145.1 L322.3 145.1 L322.7 144.6 L323.2 146.0 L323.6 144.3 L324.1 144.7 L324.5 144.5 L325.0 142.9 L325.5 143.3 L325.9 144.9 L326.4 144.9 L326.8 146.9 L327.3 142.5 L327.7 145.7 L328.2 146.7 L328.6 145.3 L329.1 146.2 L329.5 144.9 L330.0 144.1 L330.5 145.5 L330.9 143.3 L331.4 141.6 L331.8 145.1 L332.3 145.0 L332.7 145.2 L333.2 146.4 L333.6 146.5 L334.1 144.9 L334.5 147.2 L335.0 147.1 L335.5 145.6 L335.9 146.6 L336.4 147.2 L336.8 146.2 L337.3 148.8 L337.7 146.4 L338.2 148.3 L338.6 148.7 L339.1 145.2 L339.5 145.2 L340.0 146.8 L340.5 146.0 L340.9 147.1 L341.4 148.0 L341.9 145.3 L342.3 146.5 L342.8 145.0 L343.2 145.5 L343.7 146.2 L344.2 146.1 L344.6 147.3 L345.1 146.8 L345.6 147.8 L346.0 147.8 L346.5 145.0 L347.0 147.0 L347.4 147.3 L347.9 148.7 L348.4 145.6 L348.8 147.5 L349.3 146.3 L349.8 144.5 L350.2 146.3 L350.7 147.4 L351.1 146.2 L351.6 148.2 L352.1 147.4 L352.5 147.5 L353.0 146.4" fill="none" stroke="#f9a9dc" stroke-width="1.8" stroke-linejoin="round"/>
<path d="M195.5 150.8 L196.0 150.7 L196.4 150.0 L196.9 149.2 L197.3 149.5 L197.8 148.7 L198.3 149.8 L198.7 150.9 L199.2 149.8 L199.7 149.5 L200.1 150.6 L200.6 150.5 L201.0 150.6 L201.5 149.7" fill="none" stroke="#f450b4" stroke-width="2.4" stroke-linejoin="round"/>
<path d="M204.0 150.9 L204.1 150.7 L204.1 150.2 L204.2 150.0 L204.2 148.8 L204.3 149.2 L204.3 148.3 L204.4 148.4 L204.4 147.9 L204.5 147.7 L204.5 147.2 L204.6 146.5 L204.6 146.4 L204.7 146.4 L204.7 145.4 L204.8 145.5 L204.9 144.5 L204.9 144.5 L205.0 143.1 L205.0 143.0 L205.1 142.7 L205.1 142.1 L205.2 140.7 L205.2 141.5 L205.3 140.9 L205.3 140.4 L205.4 139.8 L205.4 139.5 L205.5 138.1 L205.6 139.3 L205.6 137.8 L205.7 136.6 L205.7 137.1 L205.8 137.5 L205.8 136.2 L205.9 136.8 L205.9 136.3 L206.0 134.5 L206.0 133.6 L206.1 133.8 L206.1 134.6 L206.2 133.1 L206.2 132.1 L206.3 131.7 L206.4 131.8 L206.4 131.2 L206.5 131.0 L206.5 130.6 L206.6 129.1 L206.6 129.5 L206.7 128.5 L206.7 128.6 L206.8 127.7 L206.8 127.3 L206.9 128.6 L206.9 127.1 L207.0 126.7 L207.1 127.4 L207.1 126.0 L207.2 124.8 L207.2 124.4 L207.3 123.5 L207.3 124.3 L207.4 123.1 L207.4 123.8 L207.5 122.1 L207.5 121.8 L207.6 121.5 L207.6 121.8 L207.7 120.6 L207.7 120.8 L207.8 119.0 L208.1 119.3 L208.4 119.9 L208.7 117.9 L208.9 118.0 L209.2 118.3 L209.5 117.1 L210.1 117.3 L210.6 116.5 L211.1 120.5 L211.7 119.6 L212.0 120.7 L212.2 119.9 L212.5 122.5 L212.8 121.6 L213.1 121.9 L213.3 121.3 L213.6 122.6 L213.9 122.2 L214.3 123.0 L214.6 122.1 L215.0 123.8 L215.4 124.5 L215.7 124.0 L216.1 125.5 L216.5 126.8 L216.8 126.2 L217.2 126.6 L217.6 126.7 L217.9 128.5 L218.3 126.9 L218.8 128.3 L219.3 128.2 L219.7 129.6 L220.2 129.6 L220.7 129.6 L221.2 132.6 L221.6 131.2 L222.1 130.7 L222.6 131.9 L223.1 132.8 L223.6 133.8 L224.1 132.6 L224.6 134.7 L225.0 133.9 L225.5 134.9 L226.0 136.3 L226.5 137.6 L227.0 136.8 L227.5 136.8 L228.0 138.7 L228.5 137.0 L229.0 138.2 L229.4 138.9 L229.9 139.6 L230.4 139.3 L230.9 139.1 L231.4 140.0 L231.9 138.8 L232.4 140.6 L232.8 139.6 L233.3 139.6 L233.8 140.0 L234.3 140.4 L234.8 141.1 L235.3 140.5 L235.8 141.6 L236.2 141.5 L236.7 140.4 L237.2 139.8 L237.7 141.6 L238.2 141.4 L238.6 139.1 L239.1 140.2 L239.6 141.6 L240.1 140.9 L240.6 141.8 L241.1 141.6 L241.6 144.1 L242.0 144.6 L242.5 144.1 L243.0 145.3 L243.5 143.9 L243.9 144.1 L244.4 145.7 L244.8 142.4 L245.3 144.3 L245.7 143.2 L246.2 144.4 L246.7 146.1 L247.1 144.6 L247.6 143.6 L248.0 146.6 L248.5 144.1 L248.9 144.5 L249.4 145.1 L249.8 143.4 L250.3 145.5 L250.8 145.9 L251.3 145.1 L251.7 145.0 L252.2 144.7 L252.7 145.5 L253.2 142.7 L253.7 145.2 L254.1 145.7 L254.6 144.2 L255.1 146.3 L255.6 146.1 L256.1 146.3 L256.5 146.3 L257.0 146.7 L257.5 146.6 L258.0 145.1 L258.4 145.7 L258.9 145.9 L259.3 145.8 L259.8 145.4 L260.2 146.8 L260.7 147.5 L261.1 147.8 L261.6 148.3 L262.1 147.9 L262.5 146.3 L263.0 146.4 L263.4 146.6 L263.9 147.3 L264.3 146.4 L264.8 146.9 L265.3 147.3 L265.7 145.7 L266.2 146.4 L266.6 145.3 L267.1 144.7 L267.5 145.0 L268.0 145.9 L268.5 144.5 L268.9 146.7 L269.4 147.5 L269.8 145.6 L270.3 146.5 L270.8 148.4 L271.2 147.6 L271.7 147.6 L272.1 147.0 L272.6 148.6 L273.0 147.7 L273.5 146.8 L274.0 145.0 L274.4 145.0 L274.9 148.0 L275.3 147.5 L275.8 148.8 L276.2 148.6 L276.7 146.8 L277.2 148.7 L277.6 149.4 L278.1 147.4 L278.5 147.5 L279.0 149.5 L279.5 146.4 L279.9 146.7 L280.4 148.4 L280.8 148.0 L281.3 147.3 L281.8 147.5 L282.2 148.7 L282.7 149.2 L283.1 149.0 L283.6 148.7 L284.0 149.8 L284.5 148.7 L285.0 147.7 L285.4 150.6 L285.9 148.0 L286.3 149.4 L286.8 149.4 L287.2 150.8 L287.7 149.5 L288.2 149.8 L288.6 148.3 L289.1 150.6 L289.5 150.4 L290.0 150.9 L290.5 149.2 L290.9 149.6 L291.4 149.1 L291.8 149.6 L292.3 149.3 L292.7 150.6 L293.2 148.7 L293.6 149.1 L294.1 148.5 L294.5 148.6 L295.0 148.1 L295.5 148.8 L295.9 149.3 L296.4 147.9 L296.8 149.2 L297.3 147.6 L297.7 148.3 L298.2 148.0 L298.6 148.2 L299.1 148.4 L299.5 149.6 L300.0 149.1 L300.5 150.6 L300.9 149.6 L301.4 149.5 L301.8 150.7 L302.3 148.0 L302.7 148.8 L303.2 149.4 L303.6 150.0 L304.1 148.3 L304.5 149.6 L305.0 150.3 L305.5 149.4 L305.9 149.0 L306.4 150.1 L306.8 148.9 L307.3 148.1 L307.7 149.7 L308.2 148.8 L308.6 150.2 L309.1 149.9 L309.5 148.2 L310.0 149.3 L310.5 149.1 L310.9 148.0 L311.4 149.3 L311.8 146.4 L312.3 146.8 L312.7 147.7 L313.2 149.1 L313.6 146.9 L314.1 148.0 L314.5 147.8 L315.0 147.4 L315.5 148.2 L315.9 147.9 L316.4 148.4 L316.8 148.9 L317.3 147.7 L317.7 148.0 L318.2 148.4 L318.6 148.9 L319.1 147.7 L319.5 148.2 L320.0 149.4 L320.5 148.5 L320.9 152.1 L321.4 148.3 L321.8 148.9 L322.3 147.3 L322.7 148.4 L323.2 148.6 L323.6 149.1 L324.1 149.8 L324.5 148.7 L325.0 147.8 L325.5 148.7 L325.9 147.7 L326.4 148.4 L326.8 150.2 L327.3 149.9 L327.7 149.9 L328.2 149.4 L328.6 149.4 L329.1 147.9 L329.5 148.9 L330.0 148.7 L330.5 149.5 L330.9 149.6 L331.4 149.8 L331.8 148.4 L332.3 150.6 L332.7 150.1 L333.2 148.7 L333.6 149.6 L334.1 150.1 L334.5 149.2 L335.0 149.2 L335.4 150.2 L335.9 149.8 L336.3 150.1 L336.8 148.1 L337.2 148.1 L337.7 150.9 L338.1 148.5 L338.6 150.1 L339.0 150.1 L339.5 150.1 L339.9 149.8 L340.4 151.9 L340.8 151.2 L341.3 150.5 L341.7 149.9 L342.2 151.0 L342.6 150.5 L343.1 150.2 L343.5 150.8 L344.0 151.2 L344.4 151.4 L344.9 150.9 L345.3 150.5 L345.8 152.0 L346.2 151.6 L346.7 153.0 L347.1 151.2 L347.6 150.1 L348.0 150.9 L348.5 152.1 L348.9 150.2 L349.4 149.9 L349.8 149.3 L350.3 151.7 L350.7 149.3 L351.2 149.5 L351.6 149.9 L352.1 148.3 L352.5 149.2 L353.0 148.6" fill="none" stroke="#f450b4" stroke-width="2.1" stroke-linejoin="round"/>
<text x="406.5" y="33.4" font-size="13.8" font-weight="bold" fill="#5f9ef5" font-family="Liberation Sans, sans-serif">C456Y</text>
<text x="469.09999999999997" y="35.6" font-size="10.7" font-family="Liberation Sans, sans-serif">TCN-201</text><line x1="461" y1="45.9" x2="481.5" y2="45.9" stroke="#aecbf6" stroke-width="1.6"/><text x="487.6" y="49.4" font-size="10.5" font-family="Liberation Sans, sans-serif">Before</text><line x1="461" y1="57" x2="481.5" y2="57" stroke="#74a9f2" stroke-width="2"/><text x="487.6" y="61" font-size="10.5" font-family="Liberation Sans, sans-serif">After</text>
<path d="M481 76.6 L481 107.4 L518 107.4" fill="none" stroke="#000" stroke-width="1.5"/><text transform="translate(476.3 92.3) rotate(-90)" font-size="10" text-anchor="middle" font-family="Liberation Sans, sans-serif">40 pA</text><text x="483" y="120.4" font-size="10" font-family="Liberation Sans, sans-serif">50 ms</text>
<path d="M379.5 144.2 L380.0 145.0 L380.4 143.5 L380.9 145.6 L381.3 145.9 L381.8 143.9 L382.3 145.4 L382.7 144.8 L383.2 144.2 L383.7 143.5 L384.1 142.2 L384.6 145.5 L385.0 144.4 L385.5 146.3" fill="none" stroke="#aecbf6" stroke-width="2.6" stroke-linejoin="round"/>
<path d="M389.5 150.5 L389.5 150.1 L389.5 149.8 L389.5 149.5 L389.5 148.9 L389.5 148.6 L389.5 148.4 L389.5 148.0 L389.5 147.5 L389.5 146.6 L389.5 146.1 L389.5 145.7 L389.5 145.4 L389.5 145.1 L389.5 144.2 L389.5 143.8 L389.5 143.8 L389.6 142.7 L389.6 142.7 L389.6 142.4 L389.6 141.5 L389.6 141.2 L389.6 140.8 L389.6 136.9 L389.6 140.1 L389.6 139.3 L389.6 139.2 L389.6 139.1 L389.6 138.5 L389.6 137.9 L389.6 137.1 L389.6 136.3 L389.6 136.3 L389.6 135.8 L389.6 135.5 L389.6 135.4 L389.6 134.6 L389.6 134.3 L389.6 133.9 L389.6 133.3 L389.6 132.6 L389.6 132.1 L389.6 132.0 L389.6 131.5 L389.6 130.7 L389.6 130.6 L389.6 129.7 L389.6 128.9 L389.6 128.8 L389.6 128.1 L389.6 127.5 L389.6 127.5 L389.7 126.9 L389.7 126.6 L389.7 126.4 L389.7 125.4 L389.7 125.3 L389.7 124.9 L389.7 124.7 L389.7 124.1 L389.7 123.7 L389.7 123.4 L389.7 123.0 L389.7 122.6 L389.7 121.7 L389.7 121.1 L389.7 121.1 L389.7 120.5 L389.7 119.8 L389.7 119.9 L389.7 119.6 L389.7 118.7 L389.8 118.5 L389.8 118.2 L389.8 117.5 L389.8 111.1 L389.8 116.5 L389.8 115.7 L389.9 115.7 L389.9 114.7 L389.9 114.4 L389.9 114.1 L389.9 113.5 L389.9 113.0 L389.9 112.6 L390.0 112.8 L390.0 112.3 L390.0 111.1 L390.0 110.9 L390.0 110.8 L390.0 110.0 L390.1 109.7 L390.1 109.4 L390.1 108.8 L390.1 108.3 L390.1 107.7 L390.1 107.3 L390.2 106.9 L390.2 106.7 L390.2 106.1 L390.2 105.3 L390.2 105.3 L390.2 104.6 L390.2 103.9 L390.3 103.8 L390.3 103.6 L390.3 102.7 L390.3 102.7 L390.3 101.9 L390.3 101.5 L390.4 100.7 L390.4 101.1 L390.4 100.3 L390.4 100.0 L390.4 99.0 L390.4 98.4 L390.4 98.8 L390.5 92.2 L390.5 98.0 L390.5 97.1 L390.5 97.1 L390.5 96.1 L390.5 95.4 L390.6 95.5 L390.6 94.8 L390.6 94.2 L390.6 94.0 L390.6 93.0 L390.6 92.3 L390.6 91.8 L390.7 91.2 L390.7 90.7 L390.7 90.5 L390.7 90.0 L390.7 89.7 L390.7 89.1 L390.8 88.9 L390.8 88.6 L390.8 87.9 L390.8 87.5 L390.8 86.8 L390.8 86.8 L390.8 86.4 L390.9 85.8 L390.9 85.1 L390.9 85.1 L390.9 84.7 L390.9 84.7 L390.9 83.7 L391.0 83.8 L391.0 82.3 L391.0 82.4 L391.0 81.8 L391.0 81.5 L391.0 81.1 L391.1 80.8 L391.1 80.8 L391.1 80.0 L391.1 79.9 L391.1 79.1 L391.1 78.6 L391.1 77.4 L391.2 77.5 L391.2 77.2 L391.2 76.2 L391.2 75.9 L391.2 75.3 L391.2 75.7 L391.3 74.4 L391.3 73.9 L391.3 72.9 L391.3 72.9 L391.3 72.9 L391.3 72.1 L391.3 71.2 L391.4 71.4 L391.4 71.2 L391.4 70.7 L391.4 70.2 L391.4 69.5 L391.4 69.8 L391.5 68.5 L391.5 68.3 L391.5 67.4 L391.5 67.2 L391.5 66.4 L391.5 61.0 L391.5 65.8 L391.6 65.2 L391.6 64.6 L391.6 64.9 L391.6 64.5 L391.6 64.0 L391.6 63.3 L391.7 63.1 L391.7 62.7 L391.7 62.0 L391.7 61.8 L391.7 61.1 L391.7 60.9 L391.7 60.0 L391.8 60.5 L391.8 59.3 L391.8 59.1 L391.8 58.7 L391.8 57.7 L391.8 57.5 L391.9 57.3 L391.9 56.6 L391.9 56.3 L391.9 55.8 L391.9 55.3 L391.9 55.0 L392.0 54.7 L392.0 54.2 L392.0 53.9 L392.0 53.1 L392.0 52.5 L392.0 52.3 L392.0 51.8 L392.1 51.5 L392.1 50.8 L392.1 50.5 L392.1 50.1 L392.1 49.7 L392.1 48.9 L392.2 48.7 L392.2 48.3 L392.2 48.1 L392.2 47.2 L392.3 46.8 L392.4 46.2 L392.6 45.2 L392.7 45.6 L392.8 44.8 L392.9 44.5 L393.1 43.4 L393.2 43.4 L393.3 42.9 L393.4 42.0 L393.5 42.1 L393.7 41.6 L393.8 41.5 L393.9 40.4 L394.0 40.1 L394.2 39.7 L394.3 39.0 L394.4 38.9 L394.5 38.7 L394.6 37.8 L394.8 37.7 L394.9 37.5 L395.0 36.8 L395.1 36.1 L395.3 35.1 L395.4 35.2 L395.5 34.6 L395.6 35.0 L395.7 35.7 L395.8 36.2 L395.9 36.2 L396.0 37.0 L396.0 37.4 L396.1 38.3 L396.2 38.5 L396.3 39.3 L396.4 39.3 L396.5 39.8 L396.6 40.2 L396.7 40.8 L396.8 41.1 L396.9 37.4 L397.0 41.5 L397.1 42.3 L397.1 42.5 L397.2 43.0 L397.3 43.6 L397.4 43.8 L397.5 44.7 L397.6 45.0 L397.7 45.5 L397.7 46.3 L397.8 46.8 L397.8 46.7 L397.9 46.8 L397.9 47.6 L398.0 48.1 L398.1 48.8 L398.1 49.0 L398.2 49.3 L398.2 50.2 L398.3 50.7 L398.4 50.8 L398.4 51.4 L398.5 51.9 L398.5 52.8 L398.6 52.4 L398.6 53.0 L398.7 53.7 L398.8 54.4 L398.8 54.6 L398.9 55.4 L398.9 55.9 L399.0 56.6 L399.0 56.3 L399.1 56.5 L399.2 57.0 L399.2 56.9 L399.3 57.5 L399.3 58.3 L399.4 58.8 L399.5 60.0 L399.5 60.3 L399.6 60.6 L399.6 61.3 L399.7 61.3 L399.7 61.7 L399.8 62.2 L399.9 62.9 L399.9 63.9 L400.0 63.7 L400.1 58.8 L400.1 64.6 L400.2 65.2 L400.2 65.4 L400.3 65.9 L400.4 65.9 L400.4 66.5 L400.5 67.1 L400.6 67.6 L400.6 68.4 L400.7 68.3 L400.8 69.4 L400.8 69.5 L400.9 70.2 L400.9 70.4 L401.0 70.8 L401.1 72.0 L401.1 72.1 L401.2 71.9 L401.3 73.1 L401.3 73.2 L401.4 73.9 L401.5 74.3 L401.5 74.4 L401.6 75.5 L401.6 75.5 L401.7 76.4 L401.8 76.5 L401.8 76.8 L401.9 77.2 L402.0 78.2 L402.1 78.0 L402.2 78.5 L402.3 79.0 L402.4 79.9 L402.5 80.3 L402.6 80.5 L402.7 80.9 L402.8 80.9 L402.9 82.2 L403.0 82.0 L403.1 82.7 L403.2 83.2 L403.3 83.9 L403.4 84.0 L403.5 84.4 L403.6 85.0 L403.7 85.5 L403.8 86.0 L403.9 86.8 L404.0 87.2 L404.1 87.8 L404.2 88.6 L404.3 88.5 L404.4 88.8 L404.5 89.4 L404.6 90.3 L404.7 90.3 L404.8 87.1 L404.9 91.6 L405.0 91.8 L405.0 91.6 L405.1 92.4 L405.2 93.1 L405.3 93.5 L405.4 94.0 L405.5 94.7 L405.6 95.0 L405.6 95.8 L405.7 95.8 L405.8 96.6 L405.9 96.6 L406.0 97.0 L406.1 97.1 L406.2 97.8 L406.2 98.5 L406.3 99.4 L406.4 98.6 L406.5 100.2 L406.6 100.3 L406.8 101.3 L406.9 97.5 L407.0 102.1 L407.1 103.0 L407.2 102.8 L407.4 103.0 L407.5 103.7 L407.6 103.8 L407.8 104.0 L407.9 104.1 L408.0 105.2 L408.1 105.1 L408.2 106.1 L408.4 107.1 L408.5 107.5 L408.6 108.9 L408.8 107.6 L408.9 108.5 L409.0 108.8 L409.1 109.0 L409.2 110.2 L409.4 110.8 L409.5 111.1 L409.7 111.0 L410.0 106.5 L410.2 111.3 L410.4 113.2 L410.7 113.8 L410.9 113.0 L411.1 113.4 L411.4 112.7 L411.6 113.9 L411.9 113.9 L412.1 114.6 L412.3 114.0 L412.6 117.3 L412.8 116.8 L413.0 118.6 L413.3 118.8 L413.5 119.1 L413.8 121.6 L414.1 121.0 L414.4 118.8 L414.7 120.4 L415.0 120.3 L415.3 119.6 L415.6 123.5 L415.9 121.0 L416.2 124.9 L416.5 122.2 L416.8 126.4 L417.1 124.5 L417.4 123.2 L417.7 126.3 L418.0 126.9 L418.4 126.1 L418.7 128.8 L419.1 125.5 L419.5 130.0 L419.8 129.8 L420.2 132.4 L420.5 130.0 L420.9 132.0 L421.3 130.1 L421.6 132.6 L422.0 132.5 L422.5 133.3 L423.0 130.3 L423.5 132.7 L423.9 132.3 L424.4 134.2 L424.9 131.9 L425.4 131.8 L425.9 132.7 L426.4 133.8 L426.9 130.1 L427.4 129.8 L427.9 136.0 L428.3 135.0 L428.8 134.4 L429.3 137.8 L429.8 137.9 L430.3 137.5 L430.8 139.5 L431.3 137.1 L431.8 137.9 L432.2 138.1 L432.7 139.8 L433.2 137.8 L433.7 138.5 L434.2 136.8 L434.7 135.1 L435.1 135.9 L435.6 138.7 L436.1 135.8 L436.6 136.1 L437.0 139.2 L437.5 137.0 L437.9 137.6 L438.4 141.1 L438.8 137.1 L439.3 138.7 L439.8 138.5 L440.2 139.1 L440.7 139.1 L441.1 139.9 L441.6 140.4 L442.0 137.7 L442.5 141.8 L442.9 139.4 L443.4 139.6 L443.9 134.6 L444.3 138.3 L444.8 137.6 L445.2 140.6 L445.7 136.9 L446.2 135.8 L446.6 134.7 L447.1 140.0 L447.5 139.7 L448.0 142.1 L448.4 137.9 L448.9 138.4 L449.4 138.8 L449.8 140.0 L450.3 140.5 L450.7 138.9 L451.2 138.3 L451.7 139.9 L452.1 141.6 L452.6 139.6 L453.0 139.8 L453.5 140.2 L454.0 139.5 L454.4 139.0 L454.9 141.6 L455.3 140.2 L455.8 140.1 L456.2 139.2 L456.7 139.6 L457.2 141.4 L457.6 141.6 L458.1 140.0 L458.5 140.1 L459.0 140.1 L459.5 139.0 L459.9 141.2 L460.4 137.8 L460.8 139.3 L461.3 140.0 L461.8 138.1 L462.2 138.3 L462.7 139.4 L463.1 140.6 L463.6 140.2 L464.0 140.2 L464.5 142.3 L465.0 139.4 L465.4 139.0 L465.9 140.1 L466.3 140.0 L466.8 141.5 L467.2 141.5 L467.7 138.6 L468.2 137.2 L468.6 140.9 L469.1 140.8 L469.5 141.2 L470.0 139.6 L470.5 142.4 L470.9 140.9 L471.4 141.8 L471.8 142.9 L472.3 141.8 L472.7 141.2 L473.2 140.6 L473.6 144.2 L474.1 139.1 L474.5 141.6 L475.0 138.9 L475.5 140.3 L475.9 142.9 L476.4 140.2 L476.8 142.6 L477.3 141.2 L477.7 142.7 L478.2 138.9 L478.6 138.5 L479.1 141.7 L479.5 140.9 L480.0 139.3 L480.5 139.5 L480.9 136.9 L481.4 140.3 L481.8 140.0 L482.3 141.2 L482.7 144.1 L483.2 141.4 L483.6 142.0 L484.1 141.4 L484.5 143.4 L485.0 142.4 L485.5 140.1 L485.9 139.1 L486.4 136.9 L486.8 140.1 L487.3 137.4 L487.7 141.8 L488.2 139.2 L488.6 140.8 L489.1 139.3 L489.5 140.5 L490.0 143.3 L490.5 142.3 L490.9 140.2 L491.4 142.9 L491.8 142.7 L492.3 141.7 L492.7 142.5 L493.2 138.5 L493.6 140.7 L494.1 139.9 L494.5 139.5 L495.0 141.0 L495.5 140.4 L495.9 139.1 L496.4 141.3 L496.8 139.7 L497.3 140.6 L497.7 142.0 L498.2 141.6 L498.6 138.5 L499.1 139.6 L499.5 140.3 L500.0 140.8 L500.5 139.1 L500.9 140.4 L501.4 141.3 L501.8 143.2 L502.3 141.7 L502.7 141.7 L503.2 136.3 L503.6 140.4 L504.1 143.2 L504.5 141.9 L505.0 141.0 L505.4 142.8 L505.9 142.3 L506.3 141.2 L506.8 141.9 L507.2 140.1 L507.7 142.0 L508.1 141.9 L508.6 141.0 L509.0 140.1 L509.5 139.7 L510.0 141.8 L510.4 141.0 L510.9 139.8 L511.3 141.6 L511.8 141.2 L512.2 140.9 L512.7 141.3 L513.1 140.5 L513.6 139.8 L514.0 141.7 L514.5 139.8 L514.9 139.4 L515.4 139.6 L515.8 143.0 L516.3 140.4 L516.7 142.1 L517.2 141.5 L517.6 141.1 L518.1 141.5 L518.5 141.8 L519.0 143.8 L519.5 141.4 L519.9 141.9 L520.4 143.2 L520.8 138.3 L521.3 142.4 L521.7 137.7 L522.2 142.0 L522.6 142.9 L523.1 142.4 L523.5 141.5 L524.0 145.0 L524.4 143.0 L524.9 143.4 L525.3 142.0 L525.8 140.9 L526.2 140.6 L526.7 138.9 L527.1 143.6 L527.6 139.9 L528.0 142.0 L528.5 142.8 L529.0 141.2 L529.4 142.1 L529.9 142.7 L530.3 141.9 L530.8 142.7 L531.2 138.1 L531.7 137.6 L532.1 142.5 L532.6 139.8 L533.0 143.0 L533.5 141.3 L533.9 142.1 L534.4 143.0 L534.8 140.4 L535.3 142.9 L535.7 140.2 L536.2 141.6 L536.6 140.8 L537.1 141.0 L537.5 139.8 L538.0 140.8" fill="none" stroke="#aecbf6" stroke-width="1.8" stroke-linejoin="round"/>
<path d="M379.5 149.2 L380.0 150.3 L380.4 150.3 L380.9 148.8 L381.3 148.8 L381.8 148.6 L382.3 149.2 L382.7 148.4 L383.2 149.0 L383.7 146.7 L384.1 149.4 L384.6 148.4 L385.0 149.0 L385.5 148.5" fill="none" stroke="#74a9f2" stroke-width="2.6" stroke-linejoin="round"/>
<path d="M388.1 151.0 L388.2 150.7 L388.2 150.2 L388.3 149.6 L388.4 149.4 L388.4 148.4 L388.5 148.1 L388.6 147.5 L388.6 147.3 L388.7 147.1 L388.7 146.5 L388.8 146.1 L388.9 145.3 L388.9 145.1 L389.0 144.5 L389.1 144.4 L389.1 143.9 L389.2 143.5 L389.3 142.8 L389.3 142.4 L389.4 142.0 L389.5 141.4 L389.5 140.9 L389.6 140.3 L389.6 139.8 L389.7 139.3 L389.8 138.8 L389.8 138.3 L389.9 138.0 L390.0 137.2 L390.0 137.3 L390.1 136.7 L390.2 136.2 L390.2 135.7 L390.3 135.5 L390.4 135.1 L390.4 134.7 L390.5 134.1 L390.5 133.7 L390.6 133.6 L390.7 132.9 L390.7 132.2 L390.8 132.0 L390.9 131.3 L390.9 131.0 L391.0 130.5 L391.1 129.9 L391.1 129.3 L391.2 129.1 L391.3 128.7 L391.3 128.2 L391.4 127.9 L391.5 127.5 L391.6 126.8 L391.6 126.7 L391.7 126.4 L391.8 125.8 L391.8 125.4 L391.9 124.9 L392.0 124.6 L392.0 123.8 L392.1 123.3 L392.2 122.9 L392.2 122.2 L392.3 121.6 L392.4 121.3 L392.4 121.1 L392.5 120.6 L392.6 119.8 L392.6 119.3 L392.7 119.1 L392.8 118.7 L392.9 118.3 L392.9 118.0 L393.0 117.6 L393.1 116.9 L393.1 116.6 L393.2 115.9 L393.4 115.4 L393.6 115.2 L393.8 114.8 L394.0 114.4 L394.2 113.9 L394.4 113.5 L394.6 113.1 L394.9 112.0 L395.1 111.8 L395.3 111.7 L395.5 111.2 L395.7 110.1 L395.9 110.5 L396.1 109.6 L396.6 109.9 L397.1 110.5 L397.6 111.0 L398.0 110.4 L398.5 111.7 L399.0 111.8 L399.3 111.9 L399.5 112.6 L399.8 112.1 L400.1 113.5 L400.3 114.4 L400.6 114.8 L400.8 115.2 L401.1 115.5 L401.4 116.3 L401.6 117.2 L401.9 116.6 L402.1 117.3 L402.3 118.0 L402.6 119.6 L402.8 118.4 L403.0 119.2 L403.2 118.0 L403.5 120.5 L403.7 120.5 L403.9 121.5 L404.1 120.8 L404.4 120.1 L404.6 122.1 L404.8 122.9 L405.1 122.6 L405.3 122.7 L405.5 125.3 L405.8 125.5 L406.1 128.8 L406.4 126.8 L406.7 127.1 L407.0 127.7 L407.4 126.2 L407.7 127.0 L408.0 129.9 L408.3 128.9 L408.6 128.8 L408.9 128.3 L409.2 130.5 L409.6 131.3 L410.0 131.7 L410.4 131.3 L410.8 132.2 L411.2 132.3 L411.5 132.5 L411.9 133.7 L412.3 131.7 L412.7 132.5 L413.1 133.6 L413.5 134.5 L414.0 134.1 L414.4 135.3 L414.9 136.1 L415.4 135.9 L415.8 136.3 L416.3 137.1 L416.7 136.6 L417.2 135.7 L417.7 136.9 L418.1 138.4 L418.6 136.8 L419.1 137.5 L419.5 137.5 L420.0 137.5 L420.4 137.4 L420.9 138.5 L421.3 138.9 L421.8 138.7 L422.2 137.5 L422.7 138.6 L423.1 139.3 L423.6 140.3 L424.0 140.2 L424.5 140.5 L425.0 141.4 L425.5 141.9 L425.9 140.7 L426.4 141.4 L426.9 140.6 L427.4 139.8 L427.9 140.7 L428.4 143.7 L428.9 141.1 L429.3 140.6 L429.8 142.5 L430.3 144.6 L430.8 143.4 L431.3 143.6 L431.7 143.0 L432.2 143.2 L432.7 144.3 L433.2 143.6 L433.7 143.1 L434.1 144.2 L434.6 144.1 L435.1 143.4 L435.6 144.0 L436.1 144.0 L436.5 143.6 L437.0 145.0 L437.5 143.8 L438.0 143.6 L438.4 142.6 L438.9 142.4 L439.3 144.8 L439.8 142.7 L440.2 143.7 L440.7 142.7 L441.1 143.7 L441.6 143.8 L442.1 142.8 L442.5 142.7 L443.0 143.1 L443.4 143.8 L443.9 143.9 L444.3 143.7 L444.8 144.7 L445.3 145.5 L445.7 145.5 L446.2 144.4 L446.6 144.9 L447.1 145.3 L447.5 146.1 L448.0 147.3 L448.5 146.1 L448.9 146.1 L449.4 145.4 L449.8 146.4 L450.3 145.5 L450.8 146.6 L451.2 145.6 L451.7 144.2 L452.1 146.8 L452.6 144.4 L453.0 146.1 L453.5 146.7 L454.0 146.4 L454.4 145.5 L454.9 146.1 L455.3 145.8 L455.8 146.6 L456.2 144.0 L456.7 145.3 L457.2 146.3 L457.6 145.6 L458.1 144.3 L458.5 145.3 L459.0 144.5 L459.5 145.5 L459.9 146.0 L460.4 144.8 L460.8 143.8 L461.3 145.5 L461.8 144.7 L462.2 146.2 L462.7 147.3 L463.1 146.3 L463.6 147.4 L464.0 146.8 L464.5 145.6 L465.0 144.6 L465.4 145.6 L465.9 144.5 L466.3 146.7 L466.8 146.0 L467.2 146.9 L467.7 146.3 L468.2 144.6 L468.6 146.7 L469.1 146.6 L469.5 147.4 L470.0 145.5 L470.5 145.5 L470.9 146.6 L471.4 145.9 L471.8 145.7 L472.3 146.1 L472.7 149.0 L473.2 145.8 L473.6 145.2 L474.1 145.7 L474.5 145.9 L475.0 147.2 L475.5 146.7 L475.9 146.7 L476.4 146.7 L476.8 147.4 L477.3 146.5 L477.7 145.7 L478.2 148.4 L478.6 146.5 L479.1 147.3 L479.5 145.8 L480.0 145.4 L480.5 145.9 L480.9 145.0 L481.4 146.0 L481.8 146.2 L482.3 146.8 L482.7 146.8 L483.2 147.4 L483.6 146.3 L484.1 146.5 L484.5 145.1 L485.0 146.5 L485.5 148.1 L485.9 146.7 L486.4 147.2 L486.8 146.4 L487.3 145.5 L487.7 147.4 L488.2 145.9 L488.6 146.7 L489.1 145.9 L489.5 145.9 L490.0 144.1 L490.5 145.8 L490.9 144.8 L491.4 144.3 L491.8 147.8 L492.3 147.4 L492.7 147.0 L493.2 146.5 L493.6 146.4 L494.1 146.5 L494.5 146.5 L495.0 145.8 L495.5 146.0 L495.9 143.0 L496.4 145.9 L496.8 144.8 L497.3 146.1 L497.7 146.7 L498.2 145.2 L498.6 146.8 L499.1 146.6 L499.5 145.6 L500.0 145.5 L500.5 146.4 L500.9 143.9 L501.4 145.1 L501.8 145.8 L502.3 145.4 L502.7 144.6 L503.2 145.6 L503.6 146.9 L504.1 146.8 L504.5 146.1 L505.0 145.2 L505.4 145.8 L505.9 145.9 L506.3 145.8 L506.8 145.7 L507.2 146.6 L507.7 146.5 L508.1 143.8 L508.6 146.6 L509.0 145.7 L509.5 146.3 L510.0 145.7 L510.4 146.0 L510.9 146.9 L511.3 143.0 L511.8 147.2 L512.2 145.6 L512.7 144.1 L513.1 143.3 L513.6 145.9 L514.0 145.2 L514.5 147.2 L514.9 146.4 L515.4 146.5 L515.8 147.3 L516.3 146.5 L516.7 147.0 L517.2 146.9 L517.6 146.5 L518.1 147.1 L518.5 146.9 L519.0 145.3 L519.5 146.2 L519.9 146.2 L520.4 146.0 L520.8 144.8 L521.3 145.5 L521.7 146.2 L522.2 146.4 L522.6 147.9 L523.1 145.7 L523.5 146.1 L524.0 145.9 L524.4 146.4 L524.9 146.4 L525.3 145.0 L525.8 146.7 L526.2 147.6 L526.7 147.6 L527.1 145.7 L527.6 145.9 L528.0 147.5 L528.5 146.0 L529.0 146.4 L529.4 145.8 L529.9 146.8 L530.3 146.7 L530.8 148.0 L531.2 146.2 L531.7 146.0 L532.1 144.8 L532.6 145.5 L533.0 145.2 L533.5 145.7 L533.9 144.7 L534.4 147.1 L534.8 145.4 L535.3 146.1 L535.7 145.3 L536.2 146.9 L536.6 148.0 L537.1 146.1 L537.5 147.2 L538.0 146.8" fill="none" stroke="#74a9f2" stroke-width="2.1" stroke-linejoin="round"/>
<text transform="translate(9 189.7) scale(0.94 1)" font-size="19.2" stroke="#000" stroke-width="0.2" font-family="Liberation Sans, sans-serif">b</text>
<path d="M55.9 213.41 L55.9 364.3 M50.2 358.7 L274 358.7" fill="none" stroke="#808080" stroke-width="1.6"/><line x1="50.2" y1="359.5" x2="55.9" y2="359.5" stroke="#808080" stroke-width="1.6"/><text x="48.4" y="363.4" font-size="11" text-anchor="end" fill="#111" font-family="Liberation Sans, sans-serif">0</text><line x1="50.2" y1="338.6" x2="55.9" y2="338.6" stroke="#808080" stroke-width="1.6"/><text x="48.4" y="342.5" font-size="11" text-anchor="end" fill="#111" font-family="Liberation Sans, sans-serif">20</text><line x1="50.2" y1="317.8" x2="55.9" y2="317.8" stroke="#808080" stroke-width="1.6"/><text x="48.4" y="321.7" font-size="11" text-anchor="end" fill="#111" font-family="Liberation Sans, sans-serif">40</text><line x1="50.2" y1="296.9" x2="55.9" y2="296.9" stroke="#808080" stroke-width="1.6"/><text x="48.4" y="300.8" font-size="11" text-anchor="end" fill="#111" font-family="Liberation Sans, sans-serif">60</text><line x1="50.2" y1="276.0" x2="55.9" y2="276.0" stroke="#808080" stroke-width="1.6"/><text x="48.4" y="279.9" font-size="11" text-anchor="end" fill="#111" font-family="Liberation Sans, sans-serif">80</text><line x1="50.2" y1="255.1" x2="55.9" y2="255.1" stroke="#808080" stroke-width="1.6"/><text x="48.4" y="259.0" font-size="11" text-anchor="end" fill="#111" font-family="Liberation Sans, sans-serif">100</text><line x1="50.2" y1="234.3" x2="55.9" y2="234.3" stroke="#808080" stroke-width="1.6"/><text x="48.4" y="238.2" font-size="11" text-anchor="end" fill="#111" font-family="Liberation Sans, sans-serif">120</text><line x1="50.2" y1="213.4" x2="55.9" y2="213.4" stroke="#808080" stroke-width="1.6"/><text x="48.4" y="217.3" font-size="11" text-anchor="end" fill="#111" font-family="Liberation Sans, sans-serif">140</text><line x1="56.0" y1="358.7" x2="56.0" y2="364.3" stroke="#808080" stroke-width="1.6"/><text x="56.0" y="377" font-size="11" text-anchor="middle" font-family="Liberation Sans, sans-serif">0:00</text><line x1="110.5" y1="358.7" x2="110.5" y2="364.3" stroke="#808080" stroke-width="1.6"/><text x="110.5" y="377" font-size="11" text-anchor="middle" font-family="Liberation Sans, sans-serif">5:00</text><line x1="165.0" y1="358.7" x2="165.0" y2="364.3" stroke="#808080" stroke-width="1.6"/><text x="165.0" y="377" font-size="11" text-anchor="middle" font-family="Liberation Sans, sans-serif">10:00</text><line x1="219.5" y1="358.7" x2="219.5" y2="364.3" stroke="#808080" stroke-width="1.6"/><text x="219.5" y="377" font-size="11" text-anchor="middle" font-family="Liberation Sans, sans-serif">15:00</text><line x1="274.0" y1="358.7" x2="274.0" y2="364.3" stroke="#808080" stroke-width="1.6"/><text x="274.0" y="377" font-size="11" text-anchor="middle" font-family="Liberation Sans, sans-serif">20:00</text><line x1="57" y1="255.1" x2="274" y2="255.1" stroke="#999" stroke-width="1" stroke-dasharray="1 1"/><text transform="translate(19.8 285.8) rotate(-90)" font-size="12" text-anchor="middle" font-family="Liberation Sans, sans-serif">NMDA-EPSC Amplitude (%)</text><text x="66" y="404.3" font-size="11.7" font-family="Liberation Sans, sans-serif">Time after TCN-201 addition (minutes)</text><text x="65.4" y="348" font-size="12.6" font-style="italic" stroke="#000" stroke-width="0.15" font-family="Liberation Sans, sans-serif">Grin2b<tspan font-size="11.5" dy="-3.3">fl/fl</tspan></text>
<polyline points="56.0,255.1 72.3,278.3 77.8,279.8 83.2,274.4 88.7,293.8 94.2,292.5 99.6,296.4 105.1,293.8 110.5,291.8 116.0,295.1 121.4,299.1 126.9,300.4 132.3,297.8 137.8,299.7 159.6,303.6 197.7,309.4 246.8,320.4" fill="none" stroke="#f58dc0" stroke-width="1.1"/><path d="M72.3 258.5 L72.3 298.1 M69.8 258.5 L74.9 258.5 M69.8 298.1 L74.9 298.1" stroke="#f4a6ca" stroke-width="1.15" fill="none"/><path d="M77.8 264.1 L77.8 295.4 M75.2 264.1 L80.4 264.1 M75.2 295.4 L80.4 295.4" stroke="#f4a6ca" stroke-width="1.15" fill="none"/><path d="M83.2 256.6 L83.2 292.1 M80.7 256.6 L85.8 256.6 M80.7 292.1 L85.8 292.1" stroke="#f4a6ca" stroke-width="1.15" fill="none"/><path d="M88.7 280.2 L88.7 307.3 M86.1 280.2 L91.3 280.2 M86.1 307.3 L91.3 307.3" stroke="#f4a6ca" stroke-width="1.15" fill="none"/><path d="M94.2 277.9 L94.2 307.1 M91.6 277.9 L96.8 277.9 M91.6 307.1 L96.8 307.1" stroke="#f4a6ca" stroke-width="1.15" fill="none"/><path d="M99.6 283.8 L99.6 308.9 M97.0 283.8 L102.2 283.8 M97.0 308.9 L102.2 308.9" stroke="#f4a6ca" stroke-width="1.15" fill="none"/><path d="M105.1 279.2 L105.1 308.4 M102.5 279.2 L107.7 279.2 M102.5 308.4 L107.7 308.4" stroke="#f4a6ca" stroke-width="1.15" fill="none"/><path d="M110.5 276.1 L110.5 307.4 M107.9 276.1 L113.1 276.1 M107.9 307.4 L113.1 307.4" stroke="#f4a6ca" stroke-width="1.15" fill="none"/><path d="M116.0 281.6 L116.0 308.7 M113.4 281.6 L118.5 281.6 M113.4 308.7 L118.5 308.7" stroke="#f4a6ca" stroke-width="1.15" fill="none"/><path d="M121.4 285.5 L121.4 312.6 M118.8 285.5 L124.0 285.5 M118.8 312.6 L124.0 312.6" stroke="#f4a6ca" stroke-width="1.15" fill="none"/><path d="M126.9 287.9 L126.9 313.0 M124.3 287.9 L129.5 287.9 M124.3 313.0 L129.5 313.0" stroke="#f4a6ca" stroke-width="1.15" fill="none"/><path d="M132.3 281.1 L132.3 314.5 M129.7 281.1 L134.9 281.1 M129.7 314.5 L134.9 314.5" stroke="#f4a6ca" stroke-width="1.15" fill="none"/><path d="M137.8 278.8 L137.8 320.6 M135.2 278.8 L140.3 278.8 M135.2 320.6 L140.3 320.6" stroke="#f4a6ca" stroke-width="1.15" fill="none"/><path d="M159.6 290.0 L159.6 317.1 M157.0 290.0 L162.2 290.0 M157.0 317.1 L162.2 317.1" stroke="#f4a6ca" stroke-width="1.15" fill="none"/><path d="M197.7 298.5 L197.7 320.4 M195.1 298.5 L200.3 298.5 M195.1 320.4 L200.3 320.4" stroke="#f4a6ca" stroke-width="1.15" fill="none"/><path d="M246.8 309.4 L246.8 331.3 M244.2 309.4 L249.3 309.4 M244.2 331.3 L249.3 331.3" stroke="#f4a6ca" stroke-width="1.15" fill="none"/><polyline points="56.0,255.1 72.3,254.3 77.8,269.3 83.2,270.8 88.7,269.1 94.2,275.0 99.6,278.0 105.1,288.5 110.5,287.9 116.0,285.9 121.4,287.9 126.9,289.9 132.3,295.8 137.8,302.4 159.6,295.6 197.7,309.4 246.8,321.6" fill="none" stroke="#8dbaf2" stroke-width="1.1"/><path d="M72.3 229.3 L72.3 279.4 M69.8 229.3 L74.9 229.3 M69.8 279.4 L74.9 279.4" stroke="#9cc4f5" stroke-width="1.15" fill="none"/><path d="M77.8 253.7 L77.8 285.0 M75.2 253.7 L80.4 253.7 M75.2 285.0 L80.4 285.0" stroke="#9cc4f5" stroke-width="1.15" fill="none"/><path d="M83.2 254.1 L83.2 287.5 M80.7 254.1 L85.8 254.1 M80.7 287.5 L85.8 287.5" stroke="#9cc4f5" stroke-width="1.15" fill="none"/><path d="M88.7 251.4 L88.7 286.9 M86.1 251.4 L91.3 251.4 M86.1 286.9 L91.3 286.9" stroke="#9cc4f5" stroke-width="1.15" fill="none"/><path d="M94.2 253.1 L94.2 296.9 M91.6 253.1 L96.8 253.1 M91.6 296.9 L96.8 296.9" stroke="#9cc4f5" stroke-width="1.15" fill="none"/><path d="M99.6 258.2 L99.6 297.8 M97.0 258.2 L102.2 258.2 M97.0 297.8 L102.2 297.8" stroke="#9cc4f5" stroke-width="1.15" fill="none"/><path d="M105.1 271.8 L105.1 305.2 M102.5 271.8 L107.7 271.8 M102.5 305.2 L107.7 305.2" stroke="#9cc4f5" stroke-width="1.15" fill="none"/><path d="M110.5 271.2 L110.5 304.6 M107.9 271.2 L113.1 271.2 M107.9 304.6 L113.1 304.6" stroke="#9cc4f5" stroke-width="1.15" fill="none"/><path d="M116.0 263.0 L116.0 308.9 M113.4 263.0 L118.5 263.0 M113.4 308.9 L118.5 308.9" stroke="#9cc4f5" stroke-width="1.15" fill="none"/><path d="M121.4 267.0 L121.4 308.8 M118.8 267.0 L124.0 267.0 M118.8 308.8 L124.0 308.8" stroke="#9cc4f5" stroke-width="1.15" fill="none"/><path d="M126.9 269.0 L126.9 310.8 M124.3 269.0 L129.5 269.0 M124.3 310.8 L129.5 310.8" stroke="#9cc4f5" stroke-width="1.15" fill="none"/><path d="M132.3 280.2 L132.3 311.5 M129.7 280.2 L134.9 280.2 M129.7 311.5 L134.9 311.5" stroke="#9cc4f5" stroke-width="1.15" fill="none"/><path d="M137.8 287.8 L137.8 317.0 M135.2 287.8 L140.3 287.8 M135.2 317.0 L140.3 317.0" stroke="#9cc4f5" stroke-width="1.15" fill="none"/><path d="M159.6 281.0 L159.6 310.2 M157.0 281.0 L162.2 281.0 M157.0 310.2 L162.2 310.2" stroke="#9cc4f5" stroke-width="1.15" fill="none"/><path d="M197.7 298.5 L197.7 320.4 M195.1 298.5 L200.3 298.5 M195.1 320.4 L200.3 320.4" stroke="#9cc4f5" stroke-width="1.15" fill="none"/><path d="M246.8 311.2 L246.8 332.1 M244.2 311.2 L249.3 311.2 M244.2 332.1 L249.3 332.1" stroke="#9cc4f5" stroke-width="1.15" fill="none"/><polyline points="56.0,255.1 77.8,253.2 83.2,259.8 88.7,262.4 94.2,268.9 99.6,272.2 105.1,280.0 110.5,281.3 116.0,279.2 121.4,279.3 126.9,282.0 132.3,291.8 137.8,293.2 159.6,287.6 197.7,297.0 246.8,297.4" fill="none" stroke="#9a9a9a" stroke-width="1.1"/><path d="M77.8 222.9 L77.8 283.4 M75.2 222.9 L80.4 222.9 M75.2 283.4 L80.4 283.4" stroke="#a5a5a5" stroke-width="1.15" fill="none"/><path d="M83.2 235.8 L83.2 283.8 M80.7 235.8 L85.8 235.8 M80.7 283.8 L85.8 283.8" stroke="#a5a5a5" stroke-width="1.15" fill="none"/><path d="M88.7 237.3 L88.7 287.4 M86.1 237.3 L91.3 237.3 M86.1 287.4 L91.3 287.4" stroke="#a5a5a5" stroke-width="1.15" fill="none"/><path d="M94.2 248.1 L94.2 289.8 M91.6 248.1 L96.8 248.1 M91.6 289.8 L96.8 289.8" stroke="#a5a5a5" stroke-width="1.15" fill="none"/><path d="M99.6 253.4 L99.6 290.9 M97.0 253.4 L102.2 253.4 M97.0 290.9 L102.2 290.9" stroke="#a5a5a5" stroke-width="1.15" fill="none"/><path d="M105.1 265.4 L105.1 294.6 M102.5 265.4 L107.7 265.4 M102.5 294.6 L107.7 294.6" stroke="#a5a5a5" stroke-width="1.15" fill="none"/><path d="M110.5 264.6 L110.5 298.0 M107.9 264.6 L113.1 264.6 M107.9 298.0 L113.1 298.0" stroke="#a5a5a5" stroke-width="1.15" fill="none"/><path d="M116.0 265.6 L116.0 292.7 M113.4 265.6 L118.5 265.6 M113.4 292.7 L118.5 292.7" stroke="#a5a5a5" stroke-width="1.15" fill="none"/><path d="M121.4 266.7 L121.4 291.8 M118.8 266.7 L124.0 266.7 M118.8 291.8 L124.0 291.8" stroke="#a5a5a5" stroke-width="1.15" fill="none"/><path d="M126.9 269.4 L126.9 294.5 M124.3 269.4 L129.5 269.4 M124.3 294.5 L129.5 294.5" stroke="#a5a5a5" stroke-width="1.15" fill="none"/><path d="M132.3 278.2 L132.3 305.3 M129.7 278.2 L134.9 278.2 M129.7 305.3 L134.9 305.3" stroke="#a5a5a5" stroke-width="1.15" fill="none"/><path d="M137.8 279.7 L137.8 306.8 M135.2 279.7 L140.3 279.7 M135.2 306.8 L140.3 306.8" stroke="#a5a5a5" stroke-width="1.15" fill="none"/><path d="M159.6 274.0 L159.6 301.2 M157.0 274.0 L162.2 274.0 M157.0 301.2 L162.2 301.2" stroke="#a5a5a5" stroke-width="1.15" fill="none"/><path d="M197.7 281.3 L197.7 312.6 M195.1 281.3 L200.3 281.3 M195.1 312.6 L200.3 312.6" stroke="#a5a5a5" stroke-width="1.15" fill="none"/><path d="M246.8 278.6 L246.8 316.2 M244.2 278.6 L249.3 278.6 M244.2 316.2 L249.3 316.2" stroke="#a5a5a5" stroke-width="1.15" fill="none"/><rect x="53.1" y="252.2" width="5.8" height="5.8" fill="#8bbaf3"/><rect x="69.4" y="251.4" width="5.8" height="5.8" fill="#8bbaf3"/><rect x="74.9" y="266.4" width="5.8" height="5.8" fill="#8bbaf3"/><rect x="80.3" y="267.9" width="5.8" height="5.8" fill="#8bbaf3"/><rect x="85.8" y="266.2" width="5.8" height="5.8" fill="#8bbaf3"/><rect x="91.2" y="272.1" width="5.8" height="5.8" fill="#8bbaf3"/><rect x="96.7" y="275.1" width="5.8" height="5.8" fill="#8bbaf3"/><rect x="102.2" y="285.6" width="5.8" height="5.8" fill="#8bbaf3"/><rect x="107.6" y="285.0" width="5.8" height="5.8" fill="#8bbaf3"/><rect x="113.0" y="283.0" width="5.8" height="5.8" fill="#8bbaf3"/><rect x="118.5" y="285.0" width="5.8" height="5.8" fill="#8bbaf3"/><rect x="124.0" y="287.0" width="5.8" height="5.8" fill="#8bbaf3"/><rect x="129.4" y="292.9" width="5.8" height="5.8" fill="#8bbaf3"/><rect x="134.8" y="299.5" width="5.8" height="5.8" fill="#8bbaf3"/><rect x="156.7" y="292.7" width="5.8" height="5.8" fill="#8bbaf3"/><rect x="194.8" y="306.5" width="5.8" height="5.8" fill="#8bbaf3"/><rect x="243.8" y="318.7" width="5.8" height="5.8" fill="#8bbaf3"/><circle cx="56.0" cy="255.1" r="3.1" fill="#ef84bb" fill-opacity="0.9"/><circle cx="72.3" cy="278.3" r="3.1" fill="#ef84bb" fill-opacity="0.9"/><circle cx="77.8" cy="279.8" r="3.1" fill="#ef84bb" fill-opacity="0.9"/><circle cx="83.2" cy="274.4" r="3.1" fill="#ef84bb" fill-opacity="0.9"/><circle cx="88.7" cy="293.8" r="3.1" fill="#ef84bb" fill-opacity="0.9"/><circle cx="94.2" cy="292.5" r="3.1" fill="#ef84bb" fill-opacity="0.9"/><circle cx="99.6" cy="296.4" r="3.1" fill="#ef84bb" fill-opacity="0.9"/><circle cx="105.1" cy="293.8" r="3.1" fill="#ef84bb" fill-opacity="0.9"/><circle cx="110.5" cy="291.8" r="3.1" fill="#ef84bb" fill-opacity="0.9"/><circle cx="116.0" cy="295.1" r="3.1" fill="#ef84bb" fill-opacity="0.9"/><circle cx="121.4" cy="299.1" r="3.1" fill="#ef84bb" fill-opacity="0.9"/><circle cx="126.9" cy="300.4" r="3.1" fill="#ef84bb" fill-opacity="0.9"/><circle cx="132.3" cy="297.8" r="3.1" fill="#ef84bb" fill-opacity="0.9"/><circle cx="137.8" cy="299.7" r="3.1" fill="#ef84bb" fill-opacity="0.9"/><circle cx="159.6" cy="303.6" r="3.1" fill="#ef84bb" fill-opacity="0.9"/><circle cx="197.7" cy="309.4" r="3.1" fill="#ef84bb" fill-opacity="0.9"/><circle cx="246.8" cy="320.4" r="3.1" fill="#ef84bb" fill-opacity="0.9"/><circle cx="56.0" cy="255.1" r="3.1" fill="#858585" fill-opacity="0.88"/><circle cx="77.8" cy="253.2" r="3.1" fill="#858585" fill-opacity="0.88"/><circle cx="83.2" cy="259.8" r="3.1" fill="#858585" fill-opacity="0.88"/><circle cx="88.7" cy="262.4" r="3.1" fill="#858585" fill-opacity="0.88"/><circle cx="94.2" cy="268.9" r="3.1" fill="#858585" fill-opacity="0.88"/><circle cx="99.6" cy="272.2" r="3.1" fill="#858585" fill-opacity="0.88"/><circle cx="105.1" cy="280.0" r="3.1" fill="#858585" fill-opacity="0.88"/><circle cx="110.5" cy="281.3" r="3.1" fill="#858585" fill-opacity="0.88"/><circle cx="116.0" cy="279.2" r="3.1" fill="#858585" fill-opacity="0.88"/><circle cx="121.4" cy="279.3" r="3.1" fill="#858585" fill-opacity="0.88"/><circle cx="126.9" cy="282.0" r="3.1" fill="#858585" fill-opacity="0.88"/><circle cx="132.3" cy="291.8" r="3.1" fill="#858585" fill-opacity="0.88"/><circle cx="137.8" cy="293.2" r="3.1" fill="#858585" fill-opacity="0.88"/><circle cx="159.6" cy="287.6" r="3.1" fill="#858585" fill-opacity="0.88"/><circle cx="197.7" cy="297.0" r="3.1" fill="#858585" fill-opacity="0.88"/><circle cx="246.8" cy="297.4" r="3.1" fill="#858585" fill-opacity="0.88"/><circle cx="56.0" cy="255.1" r="3" fill="#8e7a8e"/>
<line x1="66" y1="196.2" x2="81.6" y2="196.2" stroke="#999" stroke-width="1.2"/><circle cx="73.7" cy="196.2" r="3.1" fill="#888"/><text x="90.2" y="200.5" font-size="11.7" font-family="Liberation Sans, sans-serif">WT</text><line x1="120" y1="196.2" x2="135.6" y2="196.2" stroke="#f58dc0" stroke-width="1.2"/><circle cx="127.8" cy="196.2" r="3.1" fill="#f283b8"/><text x="144" y="200.5" font-size="11.7" font-family="Liberation Sans, sans-serif">R696H</text><line x1="189.6" y1="196.2" x2="205" y2="196.2" stroke="#8dbaf2" stroke-width="1.2"/><rect x="194.5" y="193.1" width="6.1" height="6.2" fill="#78adf3"/><text x="214.2" y="200.5" font-size="11.7" font-family="Liberation Sans, sans-serif">C465Y</text>
<text transform="translate(293.8 189.7) scale(0.9 1)" font-size="18" stroke="#000" stroke-width="0.35" font-family="Liberation Sans, sans-serif">ci</text><path d="M336 190 L336 349.3 L411.4 349.3" fill="none" stroke="#555" stroke-width="1.7"/><line x1="333.2" y1="347.4" x2="336" y2="347.4" stroke="#555" stroke-width="1.2"/><text x="329" y="349.9" font-size="10.3" text-anchor="end" fill="#4d4d4d" font-family="Liberation Sans, sans-serif">0</text><line x1="333.2" y1="304.4" x2="336" y2="304.4" stroke="#555" stroke-width="1.2"/><text x="329" y="310.4" font-size="10.3" text-anchor="end" fill="#4d4d4d" font-family="Liberation Sans, sans-serif">100</text><line x1="333.2" y1="261.5" x2="336" y2="261.5" stroke="#555" stroke-width="1.2"/><text x="329" y="267.5" font-size="10.3" text-anchor="end" fill="#4d4d4d" font-family="Liberation Sans, sans-serif">200</text><line x1="333.2" y1="218.5" x2="336" y2="218.5" stroke="#555" stroke-width="1.2"/><text x="329" y="224.5" font-size="10.3" text-anchor="end" fill="#4d4d4d" font-family="Liberation Sans, sans-serif">300</text><line x1="350.7" y1="349.3" x2="350.7" y2="353.2" stroke="#555" stroke-width="1.2"/><line x1="360.9" y1="349.3" x2="360.9" y2="353.2" stroke="#555" stroke-width="1.2"/><line x1="375" y1="349.3" x2="375" y2="353.2" stroke="#555" stroke-width="1.2"/><line x1="385.2" y1="349.3" x2="385.2" y2="353.2" stroke="#555" stroke-width="1.2"/><line x1="399" y1="349.3" x2="399" y2="353.2" stroke="#555" stroke-width="1.2"/><line x1="408.9" y1="349.3" x2="408.9" y2="353.2" stroke="#555" stroke-width="1.2"/><text transform="translate(305.8 277.3) rotate(-90)" font-size="12" text-anchor="middle" font-family="Liberation Sans, sans-serif">Peak ampl. [pA]</text>
<line x1="351.4" y1="219.8" x2="360.7" y2="280.8" stroke="#d4d4d4" stroke-width="0.7"/><line x1="351.2" y1="230.5" x2="358.8" y2="284.2" stroke="#d4d4d4" stroke-width="0.7"/><line x1="350.9" y1="277.4" x2="362.0" y2="295.0" stroke="#d4d4d4" stroke-width="0.7"/><line x1="350.1" y1="282.1" x2="358.9" y2="298.8" stroke="#d4d4d4" stroke-width="0.7"/><line x1="352.0" y1="284.7" x2="360.9" y2="302.7" stroke="#d4d4d4" stroke-width="0.7"/><line x1="349.3" y1="287.2" x2="360.9" y2="301.0" stroke="#d4d4d4" stroke-width="0.7"/><line x1="352.2" y1="297.6" x2="359.3" y2="313.0" stroke="#d4d4d4" stroke-width="0.7"/><line x1="351.7" y1="305.3" x2="361.0" y2="322.0" stroke="#d4d4d4" stroke-width="0.7"/><line x1="349.4" y1="307.4" x2="359.2" y2="328.9" stroke="#d4d4d4" stroke-width="0.7"/><line x1="352.0" y1="311.3" x2="359.7" y2="330.6" stroke="#d4d4d4" stroke-width="0.7"/><circle cx="351.4" cy="219.8" r="2" fill="#c3c3c3"/><circle cx="360.7" cy="280.8" r="2" fill="#8e8e8e"/><circle cx="351.2" cy="230.5" r="2" fill="#c3c3c3"/><circle cx="358.8" cy="284.2" r="2" fill="#8e8e8e"/><circle cx="350.9" cy="277.4" r="2" fill="#c3c3c3"/><circle cx="362.0" cy="295.0" r="2" fill="#8e8e8e"/><circle cx="350.1" cy="282.1" r="2" fill="#c3c3c3"/><circle cx="358.9" cy="298.8" r="2" fill="#8e8e8e"/><circle cx="352.0" cy="284.7" r="2" fill="#c3c3c3"/><circle cx="360.9" cy="302.7" r="2" fill="#8e8e8e"/><circle cx="349.3" cy="287.2" r="2" fill="#c3c3c3"/><circle cx="360.9" cy="301.0" r="2" fill="#8e8e8e"/><circle cx="352.2" cy="297.6" r="2" fill="#c3c3c3"/><circle cx="359.3" cy="313.0" r="2" fill="#8e8e8e"/><circle cx="351.7" cy="305.3" r="2" fill="#c3c3c3"/><circle cx="361.0" cy="322.0" r="2" fill="#8e8e8e"/><circle cx="349.4" cy="307.4" r="2" fill="#c3c3c3"/><circle cx="359.2" cy="328.9" r="2" fill="#8e8e8e"/><circle cx="352.0" cy="311.3" r="2" fill="#c3c3c3"/><circle cx="359.7" cy="330.6" r="2" fill="#8e8e8e"/><line x1="374.6" y1="197.0" x2="383.6" y2="304.4" stroke="#d4d4d4" stroke-width="0.7"/><line x1="373.6" y1="263.6" x2="385.3" y2="315.2" stroke="#d4d4d4" stroke-width="0.7"/><line x1="375.0" y1="269.2" x2="386.5" y2="316.5" stroke="#d4d4d4" stroke-width="0.7"/><line x1="376.4" y1="280.8" x2="385.9" y2="318.2" stroke="#d4d4d4" stroke-width="0.7"/><line x1="373.5" y1="282.9" x2="384.9" y2="321.6" stroke="#d4d4d4" stroke-width="0.7"/><line x1="375.5" y1="288.1" x2="383.1" y2="323.8" stroke="#d4d4d4" stroke-width="0.7"/><line x1="375.0" y1="292.8" x2="384.1" y2="325.9" stroke="#d4d4d4" stroke-width="0.7"/><line x1="374.1" y1="295.0" x2="385.8" y2="328.1" stroke="#d4d4d4" stroke-width="0.7"/><line x1="374.8" y1="304.9" x2="383.3" y2="329.4" stroke="#d4d4d4" stroke-width="0.7"/><line x1="374.6" y1="310.0" x2="386.2" y2="331.1" stroke="#d4d4d4" stroke-width="0.7"/><line x1="374.7" y1="313.5" x2="383.6" y2="332.4" stroke="#d4d4d4" stroke-width="0.7"/><line x1="373.5" y1="319.0" x2="384.7" y2="334.5" stroke="#d4d4d4" stroke-width="0.7"/><line x1="375.7" y1="321.6" x2="384.4" y2="335.8" stroke="#d4d4d4" stroke-width="0.7"/><line x1="376.4" y1="300.1" x2="384.8" y2="337.1" stroke="#d4d4d4" stroke-width="0.7"/><circle cx="374.6" cy="197.0" r="2" fill="#f8a6d8"/><circle cx="383.6" cy="304.4" r="2" fill="#f24db3"/><circle cx="373.6" cy="263.6" r="2" fill="#f8a6d8"/><circle cx="385.3" cy="315.2" r="2" fill="#f24db3"/><circle cx="375.0" cy="269.2" r="2" fill="#f8a6d8"/><circle cx="386.5" cy="316.5" r="2" fill="#f24db3"/><circle cx="376.4" cy="280.8" r="2" fill="#f8a6d8"/><circle cx="385.9" cy="318.2" r="2" fill="#f24db3"/><circle cx="373.5" cy="282.9" r="2" fill="#f8a6d8"/><circle cx="384.9" cy="321.6" r="2" fill="#f24db3"/><circle cx="375.5" cy="288.1" r="2" fill="#f8a6d8"/><circle cx="383.1" cy="323.8" r="2" fill="#f24db3"/><circle cx="375.0" cy="292.8" r="2" fill="#f8a6d8"/><circle cx="384.1" cy="325.9" r="2" fill="#f24db3"/><circle cx="374.1" cy="295.0" r="2" fill="#f8a6d8"/><circle cx="385.8" cy="328.1" r="2" fill="#f24db3"/><circle cx="374.8" cy="304.9" r="2" fill="#f8a6d8"/><circle cx="383.3" cy="329.4" r="2" fill="#f24db3"/><circle cx="374.6" cy="310.0" r="2" fill="#f8a6d8"/><circle cx="386.2" cy="331.1" r="2" fill="#f24db3"/><circle cx="374.7" cy="313.5" r="2" fill="#f8a6d8"/><circle cx="383.6" cy="332.4" r="2" fill="#f24db3"/><circle cx="373.5" cy="319.0" r="2" fill="#f8a6d8"/><circle cx="384.7" cy="334.5" r="2" fill="#f24db3"/><circle cx="375.7" cy="321.6" r="2" fill="#f8a6d8"/><circle cx="384.4" cy="335.8" r="2" fill="#f24db3"/><circle cx="376.4" cy="300.1" r="2" fill="#f8a6d8"/><circle cx="384.8" cy="337.1" r="2" fill="#f24db3"/><line x1="399.4" y1="250.7" x2="408.8" y2="297.1" stroke="#d4d4d4" stroke-width="0.7"/><line x1="397.4" y1="255.0" x2="406.9" y2="302.7" stroke="#d4d4d4" stroke-width="0.7"/><line x1="399.3" y1="274.4" x2="409.6" y2="328.1" stroke="#d4d4d4" stroke-width="0.7"/><line x1="397.6" y1="288.5" x2="407.3" y2="330.2" stroke="#d4d4d4" stroke-width="0.7"/><line x1="399.5" y1="291.1" x2="408.2" y2="331.5" stroke="#d4d4d4" stroke-width="0.7"/><line x1="398.4" y1="295.0" x2="407.8" y2="332.4" stroke="#d4d4d4" stroke-width="0.7"/><line x1="397.1" y1="301.9" x2="408.1" y2="333.2" stroke="#d4d4d4" stroke-width="0.7"/><line x1="398.0" y1="304.4" x2="407.9" y2="334.5" stroke="#d4d4d4" stroke-width="0.7"/><line x1="398.8" y1="315.2" x2="409.0" y2="335.4" stroke="#d4d4d4" stroke-width="0.7"/><line x1="399.1" y1="317.3" x2="409.2" y2="336.7" stroke="#d4d4d4" stroke-width="0.7"/><line x1="397.0" y1="328.1" x2="408.9" y2="337.9" stroke="#d4d4d4" stroke-width="0.7"/><line x1="398.9" y1="332.8" x2="409.6" y2="339.7" stroke="#d4d4d4" stroke-width="0.7"/><line x1="400.3" y1="308.7" x2="406.5" y2="341.0" stroke="#d4d4d4" stroke-width="0.7"/><line x1="399.9" y1="321.6" x2="407.4" y2="342.2" stroke="#d4d4d4" stroke-width="0.7"/><line x1="399.1" y1="291.5" x2="409.3" y2="330.2" stroke="#d4d4d4" stroke-width="0.7"/><circle cx="399.4" cy="250.7" r="2" fill="#a9c7f5"/><circle cx="408.8" cy="297.1" r="2" fill="#5d9cf2"/><circle cx="397.4" cy="255.0" r="2" fill="#a9c7f5"/><circle cx="406.9" cy="302.7" r="2" fill="#5d9cf2"/><circle cx="399.3" cy="274.4" r="2" fill="#a9c7f5"/><circle cx="409.6" cy="328.1" r="2" fill="#5d9cf2"/><circle cx="397.6" cy="288.5" r="2" fill="#a9c7f5"/><circle cx="407.3" cy="330.2" r="2" fill="#5d9cf2"/><circle cx="399.5" cy="291.1" r="2" fill="#a9c7f5"/><circle cx="408.2" cy="331.5" r="2" fill="#5d9cf2"/><circle cx="398.4" cy="295.0" r="2" fill="#a9c7f5"/><circle cx="407.8" cy="332.4" r="2" fill="#5d9cf2"/><circle cx="397.1" cy="301.9" r="2" fill="#a9c7f5"/><circle cx="408.1" cy="333.2" r="2" fill="#5d9cf2"/><circle cx="398.0" cy="304.4" r="2" fill="#a9c7f5"/><circle cx="407.9" cy="334.5" r="2" fill="#5d9cf2"/><circle cx="398.8" cy="315.2" r="2" fill="#a9c7f5"/><circle cx="409.0" cy="335.4" r="2" fill="#5d9cf2"/><circle cx="399.1" cy="317.3" r="2" fill="#a9c7f5"/><circle cx="409.2" cy="336.7" r="2" fill="#5d9cf2"/><circle cx="397.0" cy="328.1" r="2" fill="#a9c7f5"/><circle cx="408.9" cy="337.9" r="2" fill="#5d9cf2"/><circle cx="398.9" cy="332.8" r="2" fill="#a9c7f5"/><circle cx="409.6" cy="339.7" r="2" fill="#5d9cf2"/><circle cx="400.3" cy="308.7" r="2" fill="#a9c7f5"/><circle cx="406.5" cy="341.0" r="2" fill="#5d9cf2"/><circle cx="399.9" cy="321.6" r="2" fill="#a9c7f5"/><circle cx="407.4" cy="342.2" r="2" fill="#5d9cf2"/><circle cx="399.1" cy="291.5" r="2" fill="#a9c7f5"/><circle cx="409.3" cy="330.2" r="2" fill="#5d9cf2"/>
<text transform="translate(354.7 359.3) rotate(-45)" font-size="8.7" text-anchor="end" font-family="Liberation Sans, sans-serif">before</text><text transform="translate(364.9 359.3) rotate(-45)" font-size="8.7" text-anchor="end" font-family="Liberation Sans, sans-serif">after</text><text transform="translate(379.0 359.3) rotate(-45)" font-size="8.7" text-anchor="end" font-family="Liberation Sans, sans-serif">before</text><text transform="translate(389.2 359.3) rotate(-45)" font-size="8.7" text-anchor="end" font-family="Liberation Sans, sans-serif">after</text><text transform="translate(403.0 359.3) rotate(-45)" font-size="8.7" text-anchor="end" font-family="Liberation Sans, sans-serif">before</text><text transform="translate(412.9 359.3) rotate(-45)" font-size="8.7" text-anchor="end" font-family="Liberation Sans, sans-serif">after</text><line x1="336.5" y1="378.6" x2="356.8" y2="378.6" stroke="#333" stroke-width="1.2"/><line x1="361.2" y1="378.6" x2="381.3" y2="378.6" stroke="#333" stroke-width="1.2"/><line x1="385.9" y1="378.6" x2="406.3" y2="378.6" stroke="#333" stroke-width="1.2"/><g transform="translate(338 362) rotate(-45)"><rect x="-39" y="-9" width="40" height="12" fill="#f7f7f7"/><text x="0" y="0" font-size="9.3" text-anchor="end" font-family="Liberation Sans, sans-serif">TCN-201</text></g><g transform="translate(329 390.5) rotate(-45)"><rect x="-36" y="-9.5" width="38" height="13" fill="#f1f1f1"/><text x="0" y="0" font-size="9.6" text-anchor="end" font-family="Liberation Sans, sans-serif">GluN2B</text></g><text transform="translate(349.5 390) rotate(-45)" font-size="10.2" text-anchor="end" fill="#5a5a5a" font-family="Liberation Sans, sans-serif">WT</text><text transform="translate(374.5 390.5) rotate(-45)" font-size="10.2" text-anchor="end" fill="#5a5a5a" font-family="Liberation Sans, sans-serif">R696H</text><text transform="translate(398.5 391) rotate(-45)" font-size="10.2" text-anchor="end" fill="#5a5a5a" font-family="Liberation Sans, sans-serif">C456Y</text>
<text transform="translate(431.8 189.7) scale(0.9 1)" font-size="18" stroke="#000" stroke-width="0.35" font-family="Liberation Sans, sans-serif">cii</text><path d="M473.5 196.8 L473.5 348.3 L544.8 348.3" fill="none" stroke="#333" stroke-width="1.2"/><line x1="470" y1="328.2" x2="473.5" y2="328.2" stroke="#333" stroke-width="1.1"/><text x="468.6" y="335.0" font-size="10.8" text-anchor="end" fill="#4d4d4d" font-family="Liberation Sans, sans-serif">0.25</text><line x1="470" y1="295.6" x2="473.5" y2="295.6" stroke="#333" stroke-width="1.1"/><text x="468.6" y="302.4" font-size="10.8" text-anchor="end" fill="#4d4d4d" font-family="Liberation Sans, sans-serif">0.50</text><line x1="470" y1="263.0" x2="473.5" y2="263.0" stroke="#333" stroke-width="1.1"/><text x="468.6" y="269.8" font-size="10.8" text-anchor="end" fill="#4d4d4d" font-family="Liberation Sans, sans-serif">0.75</text><line x1="470" y1="230.4" x2="473.5" y2="230.4" stroke="#333" stroke-width="1.1"/><text x="468.6" y="237.2" font-size="10.8" text-anchor="end" fill="#4d4d4d" font-family="Liberation Sans, sans-serif">1.00</text><line x1="470" y1="197.8" x2="473.5" y2="197.8" stroke="#333" stroke-width="1.1"/><text x="468.6" y="204.6" font-size="10.8" text-anchor="end" fill="#4d4d4d" font-family="Liberation Sans, sans-serif">1.25</text><line x1="487.1" y1="348.3" x2="487.1" y2="351.3" stroke="#333" stroke-width="1"/><line x1="508.9" y1="348.3" x2="508.9" y2="351.3" stroke="#333" stroke-width="1"/><line x1="531.3" y1="348.3" x2="531.3" y2="351.3" stroke="#333" stroke-width="1"/><line x1="474" y1="230.4" x2="544" y2="230.4" stroke="#aaa" stroke-width="1" stroke-dasharray="4 2.7"/><text transform="translate(439.7 269) rotate(-90)" font-size="12.1" text-anchor="middle" font-family="Liberation Sans, sans-serif">Peak ampl. [% of before]</text><rect x="478.3" y="257.8" width="17.19999999999999" height="45.6" fill="#dedede" stroke="#222" stroke-width="1.3"/><line x1="478.3" y1="283.9" x2="495.5" y2="283.9" stroke="#222" stroke-width="1.3"/><rect x="500.8" y="298.2" width="16.999999999999943" height="26.1" fill="#f9a7d9" stroke="#222" stroke-width="1.3"/><line x1="500.8" y1="312.6" x2="517.8" y2="312.6" stroke="#222" stroke-width="1.3"/><rect x="522.6" y="300.8" width="17.199999999999932" height="23.5" fill="#abc9f6" stroke="#222" stroke-width="1.3"/><line x1="522.6" y1="313.9" x2="539.8" y2="313.9" stroke="#222" stroke-width="1.3"/><circle cx="486" cy="234.3" r="1.8" fill="#c8c8c8" fill-opacity="0.9"/><circle cx="486.3" cy="248.7" r="1.8" fill="#c8c8c8" fill-opacity="0.9"/><circle cx="487.5" cy="255.2" r="1.8" fill="#c8c8c8" fill-opacity="0.9"/><circle cx="484.5" cy="286.5" r="1.8" fill="#c8c8c8" fill-opacity="0.9"/><circle cx="489.5" cy="290.4" r="1.8" fill="#c8c8c8" fill-opacity="0.9"/><circle cx="485" cy="295.6" r="1.8" fill="#c8c8c8" fill-opacity="0.9"/><circle cx="486.5" cy="326.9" r="1.8" fill="#c8c8c8" fill-opacity="0.9"/><circle cx="488" cy="280.0" r="1.8" fill="#c8c8c8" fill-opacity="0.9"/><circle cx="508.6" cy="255.2" r="1.8" fill="#f66cc2"/><circle cx="504.9" cy="294.3" r="1.8" fill="#f66cc2"/><circle cx="506.2" cy="295.6" r="1.8" fill="#f66cc2"/><circle cx="513.4" cy="298.2" r="1.8" fill="#f66cc2"/><circle cx="508.2" cy="299.5" r="1.8" fill="#f66cc2"/><circle cx="510.8" cy="309.9" r="1.8" fill="#f66cc2"/><circle cx="505.5" cy="317.8" r="1.8" fill="#f66cc2"/><circle cx="506.2" cy="334.1" r="1.8" fill="#f66cc2"/><circle cx="511.8" cy="333.4" r="1.8" fill="#f66cc2"/><circle cx="510.1" cy="341.6" r="1.8" fill="#f66cc2"/><circle cx="531.7" cy="206.9" r="1.8" fill="#6aa4f2"/><circle cx="530.4" cy="281.3" r="1.8" fill="#6aa4f2"/><circle cx="531.5" cy="290.4" r="1.8" fill="#6aa4f2"/><circle cx="530.3" cy="294.3" r="1.8" fill="#6aa4f2"/><circle cx="533.8" cy="295.6" r="1.8" fill="#6aa4f2"/><circle cx="528.6" cy="307.3" r="1.8" fill="#6aa4f2"/><circle cx="529.5" cy="316.5" r="1.8" fill="#6aa4f2"/><circle cx="528.6" cy="328.2" r="1.8" fill="#6aa4f2"/><circle cx="530.5" cy="333.4" r="1.8" fill="#6aa4f2"/><circle cx="529.5" cy="335.4" r="1.8" fill="#6aa4f2"/><circle cx="532.5" cy="336.0" r="1.8" fill="#6aa4f2"/><circle cx="531.2" cy="332.1" r="1.8" fill="#6aa4f2"/><path d="M487.7 194.3 L487.7 190.4 L533.7 190.4 L533.7 194.3 M487.7 203.5 L487.7 199.8 L509.4 199.8 L509.4 203.5 M508.6 217.3 L508.6 213.9 L530.7 213.9 L530.7 217.3" fill="none" stroke="#222" stroke-width="1.1"/><polygon points="511.10,183.60 511.83,185.59 513.95,185.67 512.29,186.99 512.86,189.03 511.10,187.85 509.34,189.03 509.91,186.99 508.25,185.67 510.37,185.59" fill="#111"/><polygon points="498.50,193.60 499.23,195.59 501.35,195.67 499.69,196.99 500.26,199.03 498.50,197.85 496.74,199.03 497.31,196.99 495.65,195.67 497.77,195.59" fill="#111"/><text x="513.3" y="211.6" font-size="11.4" font-style="italic" font-family="Liberation Sans, sans-serif">ns</text><text transform="translate(495.2 360.6) rotate(-45)" font-size="10.7" text-anchor="end" fill="#555" font-family="Liberation Sans, sans-serif">WT</text><text transform="translate(515.5 361.3) rotate(-45)" font-size="10.7" text-anchor="end" fill="#555" font-family="Liberation Sans, sans-serif">R696H</text><text transform="translate(538.3 361.3) rotate(-45)" font-size="10.7" text-anchor="end" fill="#555" font-family="Liberation Sans, sans-serif">C456Y</text><text x="484.5" y="405" font-size="10.9" font-family="Liberation Sans, sans-serif">GluN2B</text>
</svg>
</body></html>
